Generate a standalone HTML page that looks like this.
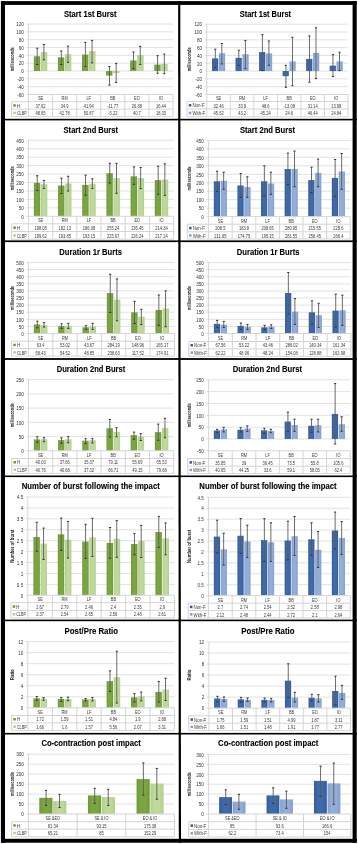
<!DOCTYPE html>
<html><head><meta charset="utf-8"><style>
html,body{margin:0;padding:0;background:#fff;}
svg{display:block;font-family:"Liberation Sans",Arial,sans-serif;}
</style></head><body>
<svg width="358" height="844" viewBox="0 0 358 844">
<defs><linearGradient id="gL0" x1="0" x2="1" y1="0" y2="0"><stop offset="0" stop-color="#6f9838"/><stop offset="0.3" stop-color="#7ba540"/><stop offset="0.7" stop-color="#7ba540"/><stop offset="1" stop-color="#6f9838"/></linearGradient><linearGradient id="gL1" x1="0" x2="1" y1="0" y2="0"><stop offset="0" stop-color="#b1ce8a"/><stop offset="0.3" stop-color="#bfd89c"/><stop offset="0.7" stop-color="#bfd89c"/><stop offset="1" stop-color="#b1ce8a"/></linearGradient><linearGradient id="gR0" x1="0" x2="1" y1="0" y2="0"><stop offset="0" stop-color="#345b98"/><stop offset="0.3" stop-color="#3f69a8"/><stop offset="0.7" stop-color="#3f69a8"/><stop offset="1" stop-color="#345b98"/></linearGradient><linearGradient id="gR1" x1="0" x2="1" y1="0" y2="0"><stop offset="0" stop-color="#839fcf"/><stop offset="0.3" stop-color="#93acd8"/><stop offset="0.7" stop-color="#93acd8"/><stop offset="1" stop-color="#839fcf"/></linearGradient></defs>
<rect x="0" y="0" width="358" height="844" fill="#fff"/>
<g fill="#383838">
<rect x="26.5" y="94" width="2" height="1" fill="#d6d6d6"/>
<text x="23.8" y="96.75" font-size="4.6" fill="#333" text-anchor="end">-60</text>
<rect x="28.5" y="86.17" width="144.5" height="1" fill="#e2e2e2"/>
<rect x="26.5" y="86.17" width="2" height="1" fill="#d6d6d6"/>
<text x="23.8" y="88.91" font-size="4.6" fill="#333" text-anchor="end">-40</text>
<rect x="28.5" y="78.33" width="144.5" height="1" fill="#e2e2e2"/>
<rect x="26.5" y="78.33" width="2" height="1" fill="#d6d6d6"/>
<text x="23.8" y="81.08" font-size="4.6" fill="#333" text-anchor="end">-20</text>
<rect x="28.5" y="70.5" width="144.5" height="1" fill="#e2e2e2"/>
<rect x="26.5" y="70.5" width="2" height="1" fill="#d6d6d6"/>
<text x="23.8" y="73.25" font-size="4.6" fill="#333" text-anchor="end">0</text>
<rect x="28.5" y="62.67" width="144.5" height="1" fill="#e2e2e2"/>
<rect x="26.5" y="62.67" width="2" height="1" fill="#d6d6d6"/>
<text x="23.8" y="65.41" font-size="4.6" fill="#333" text-anchor="end">20</text>
<rect x="28.5" y="54.83" width="144.5" height="1" fill="#e2e2e2"/>
<rect x="26.5" y="54.83" width="2" height="1" fill="#d6d6d6"/>
<text x="23.8" y="57.58" font-size="4.6" fill="#333" text-anchor="end">40</text>
<rect x="28.5" y="47" width="144.5" height="1" fill="#e2e2e2"/>
<rect x="26.5" y="47" width="2" height="1" fill="#d6d6d6"/>
<text x="23.8" y="49.75" font-size="4.6" fill="#333" text-anchor="end">60</text>
<rect x="28.5" y="39.17" width="144.5" height="1" fill="#e2e2e2"/>
<rect x="26.5" y="39.17" width="2" height="1" fill="#d6d6d6"/>
<text x="23.8" y="41.91" font-size="4.6" fill="#333" text-anchor="end">80</text>
<rect x="28.5" y="31.33" width="144.5" height="1" fill="#e2e2e2"/>
<rect x="26.5" y="31.33" width="2" height="1" fill="#d6d6d6"/>
<text x="23.8" y="34.08" font-size="4.6" fill="#333" text-anchor="end">100</text>
<rect x="28.5" y="23.5" width="144.5" height="1" fill="#e2e2e2"/>
<rect x="26.5" y="23.5" width="2" height="1" fill="#d6d6d6"/>
<text x="23.8" y="26.25" font-size="4.6" fill="#333" text-anchor="end">120</text>
<rect x="33.85" y="56.27" width="6.34" height="14.73" fill="url(#gL0)"/>
<rect x="57.94" y="57.33" width="6.34" height="13.67" fill="url(#gL0)"/>
<rect x="82.02" y="54.57" width="6.34" height="16.43" fill="url(#gL0)"/>
<rect x="106.1" y="71" width="6.34" height="4.61" fill="url(#gL0)"/>
<rect x="130.19" y="60.47" width="6.34" height="10.53" fill="url(#gL0)"/>
<rect x="154.27" y="64.56" width="6.34" height="6.44" fill="url(#gL0)"/>
<rect x="40.89" y="51.95" width="6.34" height="19.05" fill="url(#gL1)"/>
<rect x="64.97" y="54.24" width="6.34" height="16.76" fill="url(#gL1)"/>
<rect x="89.06" y="51.08" width="6.34" height="19.92" fill="url(#gL1)"/>
<rect x="113.14" y="71" width="6.34" height="2.04" fill="url(#gL1)"/>
<rect x="137.22" y="55.06" width="6.34" height="15.94" fill="url(#gL1)"/>
<rect x="161.31" y="63.82" width="6.34" height="7.18" fill="url(#gL1)"/>
<rect x="36.75" y="48.2" width="0.9" height="16.3" fill="#5c5c5c"/>
<rect x="36.1" y="47.7" width="2.2" height="1" fill="#333333"/>
<rect x="36.1" y="64" width="2.2" height="1" fill="#333333"/>
<rect x="60.83" y="51" width="0.9" height="13.5" fill="#5c5c5c"/>
<rect x="60.18" y="50.5" width="2.2" height="1" fill="#333333"/>
<rect x="60.18" y="64" width="2.2" height="1" fill="#333333"/>
<rect x="84.91" y="42.4" width="0.9" height="24.1" fill="#5c5c5c"/>
<rect x="84.26" y="41.9" width="2.2" height="1" fill="#333333"/>
<rect x="84.26" y="66" width="2.2" height="1" fill="#333333"/>
<rect x="109" y="66.5" width="0.9" height="18.6" fill="#5c5c5c"/>
<rect x="108.35" y="66" width="2.2" height="1" fill="#333333"/>
<rect x="108.35" y="84.6" width="2.2" height="1" fill="#333333"/>
<rect x="133.08" y="52" width="0.9" height="16.6" fill="#5c5c5c"/>
<rect x="132.43" y="51.5" width="2.2" height="1" fill="#333333"/>
<rect x="132.43" y="68.1" width="2.2" height="1" fill="#333333"/>
<rect x="157.16" y="55.7" width="0.9" height="17.6" fill="#5c5c5c"/>
<rect x="156.51" y="55.2" width="2.2" height="1" fill="#333333"/>
<rect x="156.51" y="72.8" width="2.2" height="1" fill="#333333"/>
<rect x="43.44" y="44.5" width="0.9" height="15.3" fill="#5c5c5c"/>
<rect x="42.79" y="44" width="2.2" height="1" fill="#333333"/>
<rect x="42.79" y="59.3" width="2.2" height="1" fill="#333333"/>
<rect x="67.52" y="46.1" width="0.9" height="16.3" fill="#5c5c5c"/>
<rect x="66.87" y="45.6" width="2.2" height="1" fill="#333333"/>
<rect x="66.87" y="61.9" width="2.2" height="1" fill="#333333"/>
<rect x="91.6" y="40.4" width="0.9" height="22.5" fill="#5c5c5c"/>
<rect x="90.95" y="39.9" width="2.2" height="1" fill="#333333"/>
<rect x="90.95" y="62.4" width="2.2" height="1" fill="#333333"/>
<rect x="115.69" y="63.4" width="0.9" height="19" fill="#5c5c5c"/>
<rect x="115.04" y="62.9" width="2.2" height="1" fill="#333333"/>
<rect x="115.04" y="81.9" width="2.2" height="1" fill="#333333"/>
<rect x="139.77" y="46.4" width="0.9" height="18" fill="#5c5c5c"/>
<rect x="139.12" y="45.9" width="2.2" height="1" fill="#333333"/>
<rect x="139.12" y="63.9" width="2.2" height="1" fill="#333333"/>
<rect x="163.85" y="54.1" width="0.9" height="19.6" fill="#5c5c5c"/>
<rect x="163.2" y="53.6" width="2.2" height="1" fill="#333333"/>
<rect x="163.2" y="73.2" width="2.2" height="1" fill="#333333"/>
<rect x="28" y="24" width="1" height="92.6" fill="#d6d6d6"/>
<rect x="28.5" y="94" width="144.5" height="1" fill="#d6d6d6"/>
<rect x="11.5" y="101.2" width="161.5" height="1" fill="#d4d4d4"/>
<rect x="11.5" y="108.6" width="161.5" height="1" fill="#d4d4d4"/>
<rect x="11.5" y="116.1" width="161.5" height="1" fill="#d4d4d4"/>
<rect x="52.08" y="94.5" width="1" height="22.1" fill="#d4d4d4"/>
<rect x="76.17" y="94.5" width="1" height="22.1" fill="#d4d4d4"/>
<rect x="100.25" y="94.5" width="1" height="22.1" fill="#d4d4d4"/>
<rect x="124.33" y="94.5" width="1" height="22.1" fill="#d4d4d4"/>
<rect x="148.42" y="94.5" width="1" height="22.1" fill="#d4d4d4"/>
<rect x="172.5" y="94.5" width="1" height="22.1" fill="#d4d4d4"/>
<rect x="11" y="101.7" width="1" height="14.9" fill="#d4d4d4"/>
<text x="40.54" y="100.35" font-size="4.6" textLength="5.22" lengthAdjust="spacingAndGlyphs" text-anchor="middle">SE</text>
<text x="40.54" y="107.65" font-size="4.6" textLength="10.13" lengthAdjust="spacingAndGlyphs" text-anchor="middle">37.62</text>
<text x="40.54" y="115.1" font-size="4.6" textLength="10.13" lengthAdjust="spacingAndGlyphs" text-anchor="middle">48.65</text>
<text x="64.62" y="100.35" font-size="4.6" textLength="6.08" lengthAdjust="spacingAndGlyphs" text-anchor="middle">RM</text>
<text x="64.62" y="107.65" font-size="4.6" textLength="7.88" lengthAdjust="spacingAndGlyphs" text-anchor="middle">34.9</text>
<text x="64.62" y="115.1" font-size="4.6" textLength="10.13" lengthAdjust="spacingAndGlyphs" text-anchor="middle">42.78</text>
<text x="88.71" y="100.35" font-size="4.6" textLength="4.56" lengthAdjust="spacingAndGlyphs" text-anchor="middle">LF</text>
<text x="88.71" y="107.65" font-size="4.6" textLength="10.13" lengthAdjust="spacingAndGlyphs" text-anchor="middle">41.94</text>
<text x="88.71" y="115.1" font-size="4.6" textLength="10.13" lengthAdjust="spacingAndGlyphs" text-anchor="middle">50.87</text>
<text x="112.79" y="100.35" font-size="4.6" textLength="5.22" lengthAdjust="spacingAndGlyphs" text-anchor="middle">BB</text>
<text x="112.79" y="107.65" font-size="4.6" textLength="11.18" lengthAdjust="spacingAndGlyphs" text-anchor="middle">-11.77</text>
<text x="112.79" y="115.1" font-size="4.6" textLength="9.23" lengthAdjust="spacingAndGlyphs" text-anchor="middle">-5.22</text>
<text x="136.88" y="100.35" font-size="4.6" textLength="5.65" lengthAdjust="spacingAndGlyphs" text-anchor="middle">EO</text>
<text x="136.88" y="107.65" font-size="4.6" textLength="10.13" lengthAdjust="spacingAndGlyphs" text-anchor="middle">26.88</text>
<text x="136.88" y="115.1" font-size="4.6" textLength="7.88" lengthAdjust="spacingAndGlyphs" text-anchor="middle">40.7</text>
<text x="160.96" y="100.35" font-size="4.6" textLength="4.13" lengthAdjust="spacingAndGlyphs" text-anchor="middle">IO</text>
<text x="160.96" y="107.65" font-size="4.6" textLength="10.13" lengthAdjust="spacingAndGlyphs" text-anchor="middle">16.44</text>
<text x="160.96" y="115.1" font-size="4.6" textLength="10.13" lengthAdjust="spacingAndGlyphs" text-anchor="middle">18.33</text>
<rect x="13.3" y="104.2" width="2.5" height="2.5" fill="#6f9838"/>
<text x="16.9" y="107.62" font-size="4.8" textLength="3.1" lengthAdjust="spacingAndGlyphs">H</text>
<rect x="13.3" y="111.65" width="2.5" height="2.5" fill="#b1ce8a"/>
<text x="16.9" y="115.07" font-size="4.8" textLength="9.8" lengthAdjust="spacingAndGlyphs">CLBP</text>
<text x="90.25" y="16.7" font-size="8.2" textLength="52.5" lengthAdjust="spacingAndGlyphs" font-weight="bold" fill="#000" text-anchor="middle" stroke="#000" stroke-width="0.1">Start 1st Burst</text>
<text transform="translate(14 59.25) rotate(-90)" font-size="4.6" font-weight="bold" text-anchor="middle" fill="#222" textLength="24" lengthAdjust="spacingAndGlyphs">milliseconds</text>
<rect x="204.8" y="94" width="2" height="1" fill="#d6d6d6"/>
<text x="202.1" y="96.75" font-size="4.6" fill="#333" text-anchor="end">-60</text>
<rect x="206.8" y="86.19" width="141.2" height="1" fill="#e2e2e2"/>
<rect x="204.8" y="86.19" width="2" height="1" fill="#d6d6d6"/>
<text x="202.1" y="88.94" font-size="4.6" fill="#333" text-anchor="end">-40</text>
<rect x="206.8" y="78.38" width="141.2" height="1" fill="#e2e2e2"/>
<rect x="204.8" y="78.38" width="2" height="1" fill="#d6d6d6"/>
<text x="202.1" y="81.12" font-size="4.6" fill="#333" text-anchor="end">-20</text>
<rect x="206.8" y="70.57" width="141.2" height="1" fill="#e2e2e2"/>
<rect x="204.8" y="70.57" width="2" height="1" fill="#d6d6d6"/>
<text x="202.1" y="73.31" font-size="4.6" fill="#333" text-anchor="end">0</text>
<rect x="206.8" y="62.76" width="141.2" height="1" fill="#e2e2e2"/>
<rect x="204.8" y="62.76" width="2" height="1" fill="#d6d6d6"/>
<text x="202.1" y="65.5" font-size="4.6" fill="#333" text-anchor="end">20</text>
<rect x="206.8" y="54.94" width="141.2" height="1" fill="#e2e2e2"/>
<rect x="204.8" y="54.94" width="2" height="1" fill="#d6d6d6"/>
<text x="202.1" y="57.69" font-size="4.6" fill="#333" text-anchor="end">40</text>
<rect x="206.8" y="47.13" width="141.2" height="1" fill="#e2e2e2"/>
<rect x="204.8" y="47.13" width="2" height="1" fill="#d6d6d6"/>
<text x="202.1" y="49.88" font-size="4.6" fill="#333" text-anchor="end">60</text>
<rect x="206.8" y="39.32" width="141.2" height="1" fill="#e2e2e2"/>
<rect x="204.8" y="39.32" width="2" height="1" fill="#d6d6d6"/>
<text x="202.1" y="42.07" font-size="4.6" fill="#333" text-anchor="end">80</text>
<rect x="206.8" y="31.51" width="141.2" height="1" fill="#e2e2e2"/>
<rect x="204.8" y="31.51" width="2" height="1" fill="#d6d6d6"/>
<text x="202.1" y="34.26" font-size="4.6" fill="#333" text-anchor="end">100</text>
<rect x="206.8" y="23.7" width="141.2" height="1" fill="#e2e2e2"/>
<rect x="204.8" y="23.7" width="2" height="1" fill="#d6d6d6"/>
<text x="202.1" y="26.45" font-size="4.6" fill="#333" text-anchor="end">120</text>
<rect x="212.03" y="58.39" width="6.19" height="12.68" fill="url(#gR0)"/>
<rect x="235.56" y="57.83" width="6.19" height="13.24" fill="url(#gR0)"/>
<rect x="259.1" y="52.09" width="6.19" height="18.98" fill="url(#gR0)"/>
<rect x="282.63" y="71.07" width="6.19" height="5.11" fill="url(#gR0)"/>
<rect x="306.16" y="58.9" width="6.19" height="12.16" fill="url(#gR0)"/>
<rect x="329.7" y="65.61" width="6.19" height="5.46" fill="url(#gR0)"/>
<rect x="218.92" y="53.25" width="6.19" height="17.82" fill="url(#gR1)"/>
<rect x="242.45" y="54.19" width="6.19" height="16.87" fill="url(#gR1)"/>
<rect x="265.98" y="53.4" width="6.19" height="17.67" fill="url(#gR1)"/>
<rect x="289.52" y="61.46" width="6.19" height="9.61" fill="url(#gR1)"/>
<rect x="313.05" y="52.93" width="6.19" height="18.14" fill="url(#gR1)"/>
<rect x="336.58" y="61.37" width="6.19" height="9.7" fill="url(#gR1)"/>
<rect x="214.85" y="49.2" width="0.9" height="18.4" fill="#5c5c5c"/>
<rect x="214.2" y="48.7" width="2.2" height="1" fill="#333333"/>
<rect x="214.2" y="67.1" width="2.2" height="1" fill="#333333"/>
<rect x="238.38" y="50.2" width="0.9" height="15.1" fill="#5c5c5c"/>
<rect x="237.73" y="49.7" width="2.2" height="1" fill="#333333"/>
<rect x="237.73" y="64.8" width="2.2" height="1" fill="#333333"/>
<rect x="261.91" y="34.7" width="0.9" height="35.9" fill="#5c5c5c"/>
<rect x="261.26" y="34.2" width="2.2" height="1" fill="#333333"/>
<rect x="261.26" y="70.1" width="2.2" height="1" fill="#333333"/>
<rect x="285.45" y="65.3" width="0.9" height="22" fill="#5c5c5c"/>
<rect x="284.8" y="64.8" width="2.2" height="1" fill="#333333"/>
<rect x="284.8" y="86.8" width="2.2" height="1" fill="#333333"/>
<rect x="308.98" y="35.9" width="0.9" height="46.3" fill="#5c5c5c"/>
<rect x="308.33" y="35.4" width="2.2" height="1" fill="#333333"/>
<rect x="308.33" y="81.7" width="2.2" height="1" fill="#333333"/>
<rect x="332.51" y="54.7" width="0.9" height="21.8" fill="#5c5c5c"/>
<rect x="331.86" y="54.2" width="2.2" height="1" fill="#333333"/>
<rect x="331.86" y="76" width="2.2" height="1" fill="#333333"/>
<rect x="221.39" y="43.5" width="0.9" height="20.4" fill="#5c5c5c"/>
<rect x="220.74" y="43" width="2.2" height="1" fill="#333333"/>
<rect x="220.74" y="63.4" width="2.2" height="1" fill="#333333"/>
<rect x="244.92" y="40.4" width="0.9" height="28.2" fill="#5c5c5c"/>
<rect x="244.27" y="39.9" width="2.2" height="1" fill="#333333"/>
<rect x="244.27" y="68.1" width="2.2" height="1" fill="#333333"/>
<rect x="268.45" y="41" width="0.9" height="24.3" fill="#5c5c5c"/>
<rect x="267.8" y="40.5" width="2.2" height="1" fill="#333333"/>
<rect x="267.8" y="64.8" width="2.2" height="1" fill="#333333"/>
<rect x="291.99" y="37.3" width="0.9" height="48.4" fill="#5c5c5c"/>
<rect x="291.34" y="36.8" width="2.2" height="1" fill="#333333"/>
<rect x="291.34" y="85.2" width="2.2" height="1" fill="#333333"/>
<rect x="315.52" y="27.8" width="0.9" height="50.8" fill="#5c5c5c"/>
<rect x="314.87" y="27.3" width="2.2" height="1" fill="#333333"/>
<rect x="314.87" y="78.1" width="2.2" height="1" fill="#333333"/>
<rect x="339.05" y="52.2" width="0.9" height="18.4" fill="#5c5c5c"/>
<rect x="338.4" y="51.7" width="2.2" height="1" fill="#333333"/>
<rect x="338.4" y="70.1" width="2.2" height="1" fill="#333333"/>
<rect x="206.3" y="24.2" width="1" height="92.6" fill="#d6d6d6"/>
<rect x="206.8" y="94" width="141.2" height="1" fill="#d6d6d6"/>
<rect x="187" y="101" width="161" height="1" fill="#d4d4d4"/>
<rect x="187" y="108.5" width="161" height="1" fill="#d4d4d4"/>
<rect x="187" y="116.3" width="161" height="1" fill="#d4d4d4"/>
<rect x="229.83" y="94.5" width="1" height="22.3" fill="#d4d4d4"/>
<rect x="253.37" y="94.5" width="1" height="22.3" fill="#d4d4d4"/>
<rect x="276.9" y="94.5" width="1" height="22.3" fill="#d4d4d4"/>
<rect x="300.43" y="94.5" width="1" height="22.3" fill="#d4d4d4"/>
<rect x="323.97" y="94.5" width="1" height="22.3" fill="#d4d4d4"/>
<rect x="347.5" y="94.5" width="1" height="22.3" fill="#d4d4d4"/>
<rect x="186.5" y="101.5" width="1" height="15.3" fill="#d4d4d4"/>
<text x="218.57" y="100.25" font-size="4.6" textLength="5.22" lengthAdjust="spacingAndGlyphs" text-anchor="middle">SE</text>
<text x="218.57" y="107.5" font-size="4.6" textLength="10.13" lengthAdjust="spacingAndGlyphs" text-anchor="middle">32.46</text>
<text x="218.57" y="115.15" font-size="4.6" textLength="10.13" lengthAdjust="spacingAndGlyphs" text-anchor="middle">45.62</text>
<text x="242.1" y="100.25" font-size="4.6" textLength="6.08" lengthAdjust="spacingAndGlyphs" text-anchor="middle">RM</text>
<text x="242.1" y="107.5" font-size="4.6" textLength="7.88" lengthAdjust="spacingAndGlyphs" text-anchor="middle">33.9</text>
<text x="242.1" y="115.15" font-size="4.6" textLength="7.88" lengthAdjust="spacingAndGlyphs" text-anchor="middle">43.2</text>
<text x="265.63" y="100.25" font-size="4.6" textLength="4.56" lengthAdjust="spacingAndGlyphs" text-anchor="middle">LF</text>
<text x="265.63" y="107.5" font-size="4.6" textLength="7.88" lengthAdjust="spacingAndGlyphs" text-anchor="middle">48.6</text>
<text x="265.63" y="115.15" font-size="4.6" textLength="10.13" lengthAdjust="spacingAndGlyphs" text-anchor="middle">45.24</text>
<text x="289.17" y="100.25" font-size="4.6" textLength="5.22" lengthAdjust="spacingAndGlyphs" text-anchor="middle">BB</text>
<text x="289.17" y="107.5" font-size="4.6" textLength="11.48" lengthAdjust="spacingAndGlyphs" text-anchor="middle">-13.08</text>
<text x="289.17" y="115.15" font-size="4.6" textLength="7.88" lengthAdjust="spacingAndGlyphs" text-anchor="middle">24.6</text>
<text x="312.7" y="100.25" font-size="4.6" textLength="5.65" lengthAdjust="spacingAndGlyphs" text-anchor="middle">EO</text>
<text x="312.7" y="107.5" font-size="4.6" textLength="10.13" lengthAdjust="spacingAndGlyphs" text-anchor="middle">31.14</text>
<text x="312.7" y="115.15" font-size="4.6" textLength="10.13" lengthAdjust="spacingAndGlyphs" text-anchor="middle">46.44</text>
<text x="336.23" y="100.25" font-size="4.6" textLength="4.13" lengthAdjust="spacingAndGlyphs" text-anchor="middle">IO</text>
<text x="336.23" y="107.5" font-size="4.6" textLength="10.13" lengthAdjust="spacingAndGlyphs" text-anchor="middle">13.98</text>
<text x="336.23" y="115.15" font-size="4.6" textLength="10.13" lengthAdjust="spacingAndGlyphs" text-anchor="middle">24.84</text>
<rect x="188.8" y="104.05" width="2.5" height="2.5" fill="#345b98"/>
<text x="192.4" y="107.47" font-size="4.8" textLength="12.2" lengthAdjust="spacingAndGlyphs">Non-F</text>
<rect x="188.8" y="111.7" width="2.5" height="2.5" fill="#839fcf"/>
<text x="192.4" y="115.12" font-size="4.8" textLength="12.9" lengthAdjust="spacingAndGlyphs">With-F</text>
<text x="265.4" y="16.6" font-size="8.2" textLength="51.4" lengthAdjust="spacingAndGlyphs" font-weight="bold" fill="#000" text-anchor="middle" stroke="#000" stroke-width="0.1">Start 1st Burst</text>
<text transform="translate(191 59.35) rotate(-90)" font-size="4.6" font-weight="bold" text-anchor="middle" fill="#222" textLength="24" lengthAdjust="spacingAndGlyphs">milliseconds</text>
<rect x="26.5" y="215.8" width="2" height="1" fill="#d6d6d6"/>
<text x="23.8" y="218.55" font-size="4.6" fill="#333" text-anchor="end">0</text>
<rect x="28.5" y="207.36" width="145.1" height="1" fill="#e2e2e2"/>
<rect x="26.5" y="207.36" width="2" height="1" fill="#d6d6d6"/>
<text x="23.8" y="210.1" font-size="4.6" fill="#333" text-anchor="end">50</text>
<rect x="28.5" y="198.91" width="145.1" height="1" fill="#e2e2e2"/>
<rect x="26.5" y="198.91" width="2" height="1" fill="#d6d6d6"/>
<text x="23.8" y="201.66" font-size="4.6" fill="#333" text-anchor="end">100</text>
<rect x="28.5" y="190.47" width="145.1" height="1" fill="#e2e2e2"/>
<rect x="26.5" y="190.47" width="2" height="1" fill="#d6d6d6"/>
<text x="23.8" y="193.21" font-size="4.6" fill="#333" text-anchor="end">150</text>
<rect x="28.5" y="182.02" width="145.1" height="1" fill="#e2e2e2"/>
<rect x="26.5" y="182.02" width="2" height="1" fill="#d6d6d6"/>
<text x="23.8" y="184.77" font-size="4.6" fill="#333" text-anchor="end">200</text>
<rect x="28.5" y="173.58" width="145.1" height="1" fill="#e2e2e2"/>
<rect x="26.5" y="173.58" width="2" height="1" fill="#d6d6d6"/>
<text x="23.8" y="176.32" font-size="4.6" fill="#333" text-anchor="end">250</text>
<rect x="28.5" y="165.13" width="145.1" height="1" fill="#e2e2e2"/>
<rect x="26.5" y="165.13" width="2" height="1" fill="#d6d6d6"/>
<text x="23.8" y="167.88" font-size="4.6" fill="#333" text-anchor="end">300</text>
<rect x="28.5" y="156.69" width="145.1" height="1" fill="#e2e2e2"/>
<rect x="26.5" y="156.69" width="2" height="1" fill="#d6d6d6"/>
<text x="23.8" y="159.44" font-size="4.6" fill="#333" text-anchor="end">350</text>
<rect x="28.5" y="148.24" width="145.1" height="1" fill="#e2e2e2"/>
<rect x="26.5" y="148.24" width="2" height="1" fill="#d6d6d6"/>
<text x="23.8" y="150.99" font-size="4.6" fill="#333" text-anchor="end">400</text>
<rect x="28.5" y="139.8" width="145.1" height="1" fill="#e2e2e2"/>
<rect x="26.5" y="139.8" width="2" height="1" fill="#d6d6d6"/>
<text x="23.8" y="142.55" font-size="4.6" fill="#333" text-anchor="end">450</text>
<rect x="33.87" y="182.85" width="6.37" height="33.45" fill="url(#gL0)"/>
<rect x="58.06" y="185.54" width="6.37" height="30.76" fill="url(#gL0)"/>
<rect x="82.24" y="184.87" width="6.37" height="31.43" fill="url(#gL0)"/>
<rect x="106.42" y="173.19" width="6.37" height="43.11" fill="url(#gL0)"/>
<rect x="130.61" y="176.37" width="6.37" height="39.93" fill="url(#gL0)"/>
<rect x="154.79" y="180.1" width="6.37" height="36.2" fill="url(#gL0)"/>
<rect x="40.94" y="184.28" width="6.37" height="32.02" fill="url(#gL1)"/>
<rect x="65.12" y="183.56" width="6.37" height="32.74" fill="url(#gL1)"/>
<rect x="89.31" y="183.68" width="6.37" height="32.62" fill="url(#gL1)"/>
<rect x="113.49" y="178.14" width="6.37" height="38.16" fill="url(#gL1)"/>
<rect x="137.67" y="178.09" width="6.37" height="38.21" fill="url(#gL1)"/>
<rect x="161.86" y="179.61" width="6.37" height="36.69" fill="url(#gL1)"/>
<rect x="36.78" y="175.7" width="0.9" height="14.9" fill="#5c5c5c"/>
<rect x="36.13" y="175.2" width="2.2" height="1" fill="#333333"/>
<rect x="36.13" y="190.1" width="2.2" height="1" fill="#333333"/>
<rect x="60.97" y="178.2" width="0.9" height="15.3" fill="#5c5c5c"/>
<rect x="60.32" y="177.7" width="2.2" height="1" fill="#333333"/>
<rect x="60.32" y="193" width="2.2" height="1" fill="#333333"/>
<rect x="85.15" y="175.1" width="0.9" height="20" fill="#5c5c5c"/>
<rect x="84.5" y="174.6" width="2.2" height="1" fill="#333333"/>
<rect x="84.5" y="194.6" width="2.2" height="1" fill="#333333"/>
<rect x="109.33" y="163.3" width="0.9" height="19.7" fill="#5c5c5c"/>
<rect x="108.68" y="162.8" width="2.2" height="1" fill="#333333"/>
<rect x="108.68" y="182.5" width="2.2" height="1" fill="#333333"/>
<rect x="133.52" y="166.9" width="0.9" height="17.5" fill="#5c5c5c"/>
<rect x="132.87" y="166.4" width="2.2" height="1" fill="#333333"/>
<rect x="132.87" y="183.9" width="2.2" height="1" fill="#333333"/>
<rect x="157.7" y="166.2" width="0.9" height="28.1" fill="#5c5c5c"/>
<rect x="157.05" y="165.7" width="2.2" height="1" fill="#333333"/>
<rect x="157.05" y="193.8" width="2.2" height="1" fill="#333333"/>
<rect x="43.5" y="180.4" width="0.9" height="8" fill="#5c5c5c"/>
<rect x="42.85" y="179.9" width="2.2" height="1" fill="#333333"/>
<rect x="42.85" y="187.9" width="2.2" height="1" fill="#333333"/>
<rect x="67.68" y="176.3" width="0.9" height="14.7" fill="#5c5c5c"/>
<rect x="67.03" y="175.8" width="2.2" height="1" fill="#333333"/>
<rect x="67.03" y="190.5" width="2.2" height="1" fill="#333333"/>
<rect x="91.87" y="178.8" width="0.9" height="9.6" fill="#5c5c5c"/>
<rect x="91.22" y="178.3" width="2.2" height="1" fill="#333333"/>
<rect x="91.22" y="187.9" width="2.2" height="1" fill="#333333"/>
<rect x="116.05" y="163.3" width="0.9" height="30" fill="#5c5c5c"/>
<rect x="115.4" y="162.8" width="2.2" height="1" fill="#333333"/>
<rect x="115.4" y="192.8" width="2.2" height="1" fill="#333333"/>
<rect x="140.23" y="167.5" width="0.9" height="21.1" fill="#5c5c5c"/>
<rect x="139.58" y="167" width="2.2" height="1" fill="#333333"/>
<rect x="139.58" y="188.1" width="2.2" height="1" fill="#333333"/>
<rect x="164.42" y="163.8" width="0.9" height="31.6" fill="#5c5c5c"/>
<rect x="163.77" y="163.3" width="2.2" height="1" fill="#333333"/>
<rect x="163.77" y="194.9" width="2.2" height="1" fill="#333333"/>
<rect x="28" y="140.3" width="1" height="98.9" fill="#d6d6d6"/>
<rect x="28.5" y="215.8" width="145.1" height="1" fill="#d6d6d6"/>
<rect x="11.5" y="223.3" width="162.1" height="1" fill="#d4d4d4"/>
<rect x="11.5" y="231" width="162.1" height="1" fill="#d4d4d4"/>
<rect x="11.5" y="238.7" width="162.1" height="1" fill="#d4d4d4"/>
<rect x="52.18" y="216.3" width="1" height="22.9" fill="#d4d4d4"/>
<rect x="76.37" y="216.3" width="1" height="22.9" fill="#d4d4d4"/>
<rect x="100.55" y="216.3" width="1" height="22.9" fill="#d4d4d4"/>
<rect x="124.73" y="216.3" width="1" height="22.9" fill="#d4d4d4"/>
<rect x="148.92" y="216.3" width="1" height="22.9" fill="#d4d4d4"/>
<rect x="173.1" y="216.3" width="1" height="22.9" fill="#d4d4d4"/>
<rect x="11" y="223.8" width="1" height="15.4" fill="#d4d4d4"/>
<text x="40.59" y="222.3" font-size="4.6" textLength="5.22" lengthAdjust="spacingAndGlyphs" text-anchor="middle">SE</text>
<text x="40.59" y="229.9" font-size="4.6" textLength="12.38" lengthAdjust="spacingAndGlyphs" text-anchor="middle">198.08</text>
<text x="40.59" y="237.6" font-size="4.6" textLength="12.38" lengthAdjust="spacingAndGlyphs" text-anchor="middle">189.62</text>
<text x="64.78" y="222.3" font-size="4.6" textLength="6.08" lengthAdjust="spacingAndGlyphs" text-anchor="middle">RM</text>
<text x="64.78" y="229.9" font-size="4.6" textLength="12.38" lengthAdjust="spacingAndGlyphs" text-anchor="middle">182.13</text>
<text x="64.78" y="237.6" font-size="4.6" textLength="12.38" lengthAdjust="spacingAndGlyphs" text-anchor="middle">193.85</text>
<text x="88.96" y="222.3" font-size="4.6" textLength="4.56" lengthAdjust="spacingAndGlyphs" text-anchor="middle">LF</text>
<text x="88.96" y="229.9" font-size="4.6" textLength="12.38" lengthAdjust="spacingAndGlyphs" text-anchor="middle">186.08</text>
<text x="88.96" y="237.6" font-size="4.6" textLength="12.38" lengthAdjust="spacingAndGlyphs" text-anchor="middle">193.15</text>
<text x="113.14" y="222.3" font-size="4.6" textLength="5.22" lengthAdjust="spacingAndGlyphs" text-anchor="middle">BB</text>
<text x="113.14" y="229.9" font-size="4.6" textLength="12.38" lengthAdjust="spacingAndGlyphs" text-anchor="middle">255.24</text>
<text x="113.14" y="237.6" font-size="4.6" textLength="12.38" lengthAdjust="spacingAndGlyphs" text-anchor="middle">225.97</text>
<text x="137.32" y="222.3" font-size="4.6" textLength="5.65" lengthAdjust="spacingAndGlyphs" text-anchor="middle">EO</text>
<text x="137.32" y="229.9" font-size="4.6" textLength="12.38" lengthAdjust="spacingAndGlyphs" text-anchor="middle">236.45</text>
<text x="137.32" y="237.6" font-size="4.6" textLength="12.38" lengthAdjust="spacingAndGlyphs" text-anchor="middle">226.24</text>
<text x="161.51" y="222.3" font-size="4.6" textLength="4.13" lengthAdjust="spacingAndGlyphs" text-anchor="middle">IO</text>
<text x="161.51" y="229.9" font-size="4.6" textLength="12.38" lengthAdjust="spacingAndGlyphs" text-anchor="middle">214.34</text>
<text x="161.51" y="237.6" font-size="4.6" textLength="12.38" lengthAdjust="spacingAndGlyphs" text-anchor="middle">217.24</text>
<rect x="13.3" y="226.45" width="2.5" height="2.5" fill="#6f9838"/>
<text x="16.9" y="229.87" font-size="4.8" textLength="3.1" lengthAdjust="spacingAndGlyphs">H</text>
<rect x="13.3" y="234.15" width="2.5" height="2.5" fill="#b1ce8a"/>
<text x="16.9" y="237.57" font-size="4.8" textLength="9.8" lengthAdjust="spacingAndGlyphs">CLBP</text>
<text x="90.8" y="132.6" font-size="8.2" textLength="54.4" lengthAdjust="spacingAndGlyphs" font-weight="bold" fill="#000" text-anchor="middle" stroke="#000" stroke-width="0.1">Start 2nd Burst</text>
<text transform="translate(14 178.3) rotate(-90)" font-size="4.6" font-weight="bold" text-anchor="middle" fill="#222" textLength="24" lengthAdjust="spacingAndGlyphs">milliseconds</text>
<rect x="206.6" y="216.1" width="2" height="1" fill="#d6d6d6"/>
<text x="203.9" y="218.85" font-size="4.6" fill="#333" text-anchor="end">0</text>
<rect x="208.6" y="207.63" width="141.6" height="1" fill="#e2e2e2"/>
<rect x="206.6" y="207.63" width="2" height="1" fill="#d6d6d6"/>
<text x="203.9" y="210.38" font-size="4.6" fill="#333" text-anchor="end">50</text>
<rect x="208.6" y="199.17" width="141.6" height="1" fill="#e2e2e2"/>
<rect x="206.6" y="199.17" width="2" height="1" fill="#d6d6d6"/>
<text x="203.9" y="201.91" font-size="4.6" fill="#333" text-anchor="end">100</text>
<rect x="208.6" y="190.7" width="141.6" height="1" fill="#e2e2e2"/>
<rect x="206.6" y="190.7" width="2" height="1" fill="#d6d6d6"/>
<text x="203.9" y="193.45" font-size="4.6" fill="#333" text-anchor="end">150</text>
<rect x="208.6" y="182.23" width="141.6" height="1" fill="#e2e2e2"/>
<rect x="206.6" y="182.23" width="2" height="1" fill="#d6d6d6"/>
<text x="203.9" y="184.98" font-size="4.6" fill="#333" text-anchor="end">200</text>
<rect x="208.6" y="173.77" width="141.6" height="1" fill="#e2e2e2"/>
<rect x="206.6" y="173.77" width="2" height="1" fill="#d6d6d6"/>
<text x="203.9" y="176.51" font-size="4.6" fill="#333" text-anchor="end">250</text>
<rect x="208.6" y="165.3" width="141.6" height="1" fill="#e2e2e2"/>
<rect x="206.6" y="165.3" width="2" height="1" fill="#d6d6d6"/>
<text x="203.9" y="168.05" font-size="4.6" fill="#333" text-anchor="end">300</text>
<rect x="208.6" y="156.83" width="141.6" height="1" fill="#e2e2e2"/>
<rect x="206.6" y="156.83" width="2" height="1" fill="#d6d6d6"/>
<text x="203.9" y="159.58" font-size="4.6" fill="#333" text-anchor="end">350</text>
<rect x="208.6" y="148.37" width="141.6" height="1" fill="#e2e2e2"/>
<rect x="206.6" y="148.37" width="2" height="1" fill="#d6d6d6"/>
<text x="203.9" y="151.11" font-size="4.6" fill="#333" text-anchor="end">400</text>
<rect x="208.6" y="139.9" width="141.6" height="1" fill="#e2e2e2"/>
<rect x="206.6" y="139.9" width="2" height="1" fill="#d6d6d6"/>
<text x="203.9" y="142.65" font-size="4.6" fill="#333" text-anchor="end">450</text>
<rect x="213.84" y="181.29" width="6.21" height="35.31" fill="url(#gR0)"/>
<rect x="237.44" y="185.46" width="6.21" height="31.14" fill="url(#gR0)"/>
<rect x="261.04" y="181.27" width="6.21" height="35.33" fill="url(#gR0)"/>
<rect x="284.64" y="169.03" width="6.21" height="47.57" fill="url(#gR0)"/>
<rect x="308.24" y="180.1" width="6.21" height="36.5" fill="url(#gR0)"/>
<rect x="331.84" y="177.89" width="6.21" height="38.71" fill="url(#gR0)"/>
<rect x="220.75" y="180.76" width="6.21" height="35.84" fill="url(#gR1)"/>
<rect x="244.35" y="187.01" width="6.21" height="29.59" fill="url(#gR1)"/>
<rect x="267.95" y="183.55" width="6.21" height="33.05" fill="url(#gR1)"/>
<rect x="291.55" y="168.92" width="6.21" height="47.68" fill="url(#gR1)"/>
<rect x="315.15" y="172.84" width="6.21" height="43.76" fill="url(#gR1)"/>
<rect x="338.75" y="171.49" width="6.21" height="45.11" fill="url(#gR1)"/>
<rect x="216.67" y="171.2" width="0.9" height="20.1" fill="#5c5c5c"/>
<rect x="216.02" y="170.7" width="2.2" height="1" fill="#333333"/>
<rect x="216.02" y="190.8" width="2.2" height="1" fill="#333333"/>
<rect x="240.27" y="173.6" width="0.9" height="23.7" fill="#5c5c5c"/>
<rect x="239.62" y="173.1" width="2.2" height="1" fill="#333333"/>
<rect x="239.62" y="196.8" width="2.2" height="1" fill="#333333"/>
<rect x="263.87" y="165.8" width="0.9" height="30.1" fill="#5c5c5c"/>
<rect x="263.22" y="165.3" width="2.2" height="1" fill="#333333"/>
<rect x="263.22" y="195.4" width="2.2" height="1" fill="#333333"/>
<rect x="287.47" y="153.1" width="0.9" height="31.6" fill="#5c5c5c"/>
<rect x="286.82" y="152.6" width="2.2" height="1" fill="#333333"/>
<rect x="286.82" y="184.2" width="2.2" height="1" fill="#333333"/>
<rect x="311.07" y="167.2" width="0.9" height="25.5" fill="#5c5c5c"/>
<rect x="310.42" y="166.7" width="2.2" height="1" fill="#333333"/>
<rect x="310.42" y="192.2" width="2.2" height="1" fill="#333333"/>
<rect x="334.67" y="159.5" width="0.9" height="36.8" fill="#5c5c5c"/>
<rect x="334.02" y="159" width="2.2" height="1" fill="#333333"/>
<rect x="334.02" y="195.8" width="2.2" height="1" fill="#333333"/>
<rect x="223.23" y="172.2" width="0.9" height="17.1" fill="#5c5c5c"/>
<rect x="222.58" y="171.7" width="2.2" height="1" fill="#333333"/>
<rect x="222.58" y="188.8" width="2.2" height="1" fill="#333333"/>
<rect x="246.83" y="176.8" width="0.9" height="20.5" fill="#5c5c5c"/>
<rect x="246.18" y="176.3" width="2.2" height="1" fill="#333333"/>
<rect x="246.18" y="196.8" width="2.2" height="1" fill="#333333"/>
<rect x="270.43" y="172.2" width="0.9" height="22.1" fill="#5c5c5c"/>
<rect x="269.78" y="171.7" width="2.2" height="1" fill="#333333"/>
<rect x="269.78" y="193.8" width="2.2" height="1" fill="#333333"/>
<rect x="294.03" y="151.1" width="0.9" height="35.6" fill="#5c5c5c"/>
<rect x="293.38" y="150.6" width="2.2" height="1" fill="#333333"/>
<rect x="293.38" y="186.2" width="2.2" height="1" fill="#333333"/>
<rect x="317.63" y="159.1" width="0.9" height="27.6" fill="#5c5c5c"/>
<rect x="316.98" y="158.6" width="2.2" height="1" fill="#333333"/>
<rect x="316.98" y="186.2" width="2.2" height="1" fill="#333333"/>
<rect x="341.23" y="153.5" width="0.9" height="35.8" fill="#5c5c5c"/>
<rect x="340.58" y="153" width="2.2" height="1" fill="#333333"/>
<rect x="340.58" y="188.8" width="2.2" height="1" fill="#333333"/>
<rect x="208.1" y="140.4" width="1" height="98.6" fill="#d6d6d6"/>
<rect x="208.6" y="216.1" width="141.6" height="1" fill="#d6d6d6"/>
<rect x="187.3" y="223.7" width="162.9" height="1" fill="#d4d4d4"/>
<rect x="187.3" y="231.3" width="162.9" height="1" fill="#d4d4d4"/>
<rect x="187.3" y="238.5" width="162.9" height="1" fill="#d4d4d4"/>
<rect x="231.7" y="216.6" width="1" height="22.4" fill="#d4d4d4"/>
<rect x="255.3" y="216.6" width="1" height="22.4" fill="#d4d4d4"/>
<rect x="278.9" y="216.6" width="1" height="22.4" fill="#d4d4d4"/>
<rect x="302.5" y="216.6" width="1" height="22.4" fill="#d4d4d4"/>
<rect x="326.1" y="216.6" width="1" height="22.4" fill="#d4d4d4"/>
<rect x="349.7" y="216.6" width="1" height="22.4" fill="#d4d4d4"/>
<rect x="186.8" y="224.2" width="1" height="14.8" fill="#d4d4d4"/>
<text x="220.4" y="222.65" font-size="4.6" textLength="5.22" lengthAdjust="spacingAndGlyphs" text-anchor="middle">SE</text>
<text x="220.4" y="230.25" font-size="4.6" textLength="10.13" lengthAdjust="spacingAndGlyphs" text-anchor="middle">208.5</text>
<text x="220.4" y="237.65" font-size="4.6" textLength="12.08" lengthAdjust="spacingAndGlyphs" text-anchor="middle">211.65</text>
<text x="244" y="222.65" font-size="4.6" textLength="6.08" lengthAdjust="spacingAndGlyphs" text-anchor="middle">RM</text>
<text x="244" y="230.25" font-size="4.6" textLength="10.13" lengthAdjust="spacingAndGlyphs" text-anchor="middle">183.9</text>
<text x="244" y="237.65" font-size="4.6" textLength="12.38" lengthAdjust="spacingAndGlyphs" text-anchor="middle">174.75</text>
<text x="267.6" y="222.65" font-size="4.6" textLength="4.56" lengthAdjust="spacingAndGlyphs" text-anchor="middle">LF</text>
<text x="267.6" y="230.25" font-size="4.6" textLength="12.38" lengthAdjust="spacingAndGlyphs" text-anchor="middle">208.65</text>
<text x="267.6" y="237.65" font-size="4.6" textLength="12.38" lengthAdjust="spacingAndGlyphs" text-anchor="middle">195.15</text>
<text x="291.2" y="222.65" font-size="4.6" textLength="5.22" lengthAdjust="spacingAndGlyphs" text-anchor="middle">BB</text>
<text x="291.2" y="230.25" font-size="4.6" textLength="12.38" lengthAdjust="spacingAndGlyphs" text-anchor="middle">280.95</text>
<text x="291.2" y="237.65" font-size="4.6" textLength="12.38" lengthAdjust="spacingAndGlyphs" text-anchor="middle">281.55</text>
<text x="314.8" y="222.65" font-size="4.6" textLength="5.65" lengthAdjust="spacingAndGlyphs" text-anchor="middle">EO</text>
<text x="314.8" y="230.25" font-size="4.6" textLength="12.38" lengthAdjust="spacingAndGlyphs" text-anchor="middle">215.55</text>
<text x="314.8" y="237.65" font-size="4.6" textLength="12.38" lengthAdjust="spacingAndGlyphs" text-anchor="middle">258.45</text>
<text x="338.4" y="222.65" font-size="4.6" textLength="4.13" lengthAdjust="spacingAndGlyphs" text-anchor="middle">IO</text>
<text x="338.4" y="230.25" font-size="4.6" textLength="10.13" lengthAdjust="spacingAndGlyphs" text-anchor="middle">228.6</text>
<text x="338.4" y="237.65" font-size="4.6" textLength="10.13" lengthAdjust="spacingAndGlyphs" text-anchor="middle">266.4</text>
<rect x="189.1" y="226.8" width="2.5" height="2.5" fill="#345b98"/>
<text x="192.7" y="230.22" font-size="4.8" textLength="12.2" lengthAdjust="spacingAndGlyphs">Non-F</text>
<rect x="189.1" y="234.2" width="2.5" height="2.5" fill="#839fcf"/>
<text x="192.7" y="237.62" font-size="4.8" textLength="12.9" lengthAdjust="spacingAndGlyphs">With-F</text>
<text x="267.45" y="132.6" font-size="8.2" textLength="55.1" lengthAdjust="spacingAndGlyphs" font-weight="bold" fill="#000" text-anchor="middle" stroke="#000" stroke-width="0.1">Start 2nd Burst</text>
<text transform="translate(191 178.5) rotate(-90)" font-size="4.6" font-weight="bold" text-anchor="middle" fill="#222" textLength="24" lengthAdjust="spacingAndGlyphs">milliseconds</text>
<rect x="26.5" y="333" width="2" height="1" fill="#d6d6d6"/>
<text x="23.8" y="335.75" font-size="4.6" fill="#333" text-anchor="end">0</text>
<rect x="28.5" y="325.89" width="145.9" height="1" fill="#e2e2e2"/>
<rect x="26.5" y="325.89" width="2" height="1" fill="#d6d6d6"/>
<text x="23.8" y="328.64" font-size="4.6" fill="#333" text-anchor="end">50</text>
<rect x="28.5" y="318.78" width="145.9" height="1" fill="#e2e2e2"/>
<rect x="26.5" y="318.78" width="2" height="1" fill="#d6d6d6"/>
<text x="23.8" y="321.53" font-size="4.6" fill="#333" text-anchor="end">100</text>
<rect x="28.5" y="311.67" width="145.9" height="1" fill="#e2e2e2"/>
<rect x="26.5" y="311.67" width="2" height="1" fill="#d6d6d6"/>
<text x="23.8" y="314.42" font-size="4.6" fill="#333" text-anchor="end">150</text>
<rect x="28.5" y="304.56" width="145.9" height="1" fill="#e2e2e2"/>
<rect x="26.5" y="304.56" width="2" height="1" fill="#d6d6d6"/>
<text x="23.8" y="307.31" font-size="4.6" fill="#333" text-anchor="end">200</text>
<rect x="28.5" y="297.45" width="145.9" height="1" fill="#e2e2e2"/>
<rect x="26.5" y="297.45" width="2" height="1" fill="#d6d6d6"/>
<text x="23.8" y="300.2" font-size="4.6" fill="#333" text-anchor="end">250</text>
<rect x="28.5" y="290.34" width="145.9" height="1" fill="#e2e2e2"/>
<rect x="26.5" y="290.34" width="2" height="1" fill="#d6d6d6"/>
<text x="23.8" y="293.09" font-size="4.6" fill="#333" text-anchor="end">300</text>
<rect x="28.5" y="283.23" width="145.9" height="1" fill="#e2e2e2"/>
<rect x="26.5" y="283.23" width="2" height="1" fill="#d6d6d6"/>
<text x="23.8" y="285.98" font-size="4.6" fill="#333" text-anchor="end">350</text>
<rect x="28.5" y="276.12" width="145.9" height="1" fill="#e2e2e2"/>
<rect x="26.5" y="276.12" width="2" height="1" fill="#d6d6d6"/>
<text x="23.8" y="278.87" font-size="4.6" fill="#333" text-anchor="end">400</text>
<rect x="28.5" y="269.01" width="145.9" height="1" fill="#e2e2e2"/>
<rect x="26.5" y="269.01" width="2" height="1" fill="#d6d6d6"/>
<text x="23.8" y="271.76" font-size="4.6" fill="#333" text-anchor="end">450</text>
<rect x="28.5" y="261.9" width="145.9" height="1" fill="#e2e2e2"/>
<rect x="26.5" y="261.9" width="2" height="1" fill="#d6d6d6"/>
<text x="23.8" y="264.65" font-size="4.6" fill="#333" text-anchor="end">500</text>
<rect x="33.9" y="324.48" width="6.4" height="9.02" fill="url(#gL0)"/>
<rect x="58.22" y="325.96" width="6.4" height="7.54" fill="url(#gL0)"/>
<rect x="82.54" y="327.29" width="6.4" height="6.21" fill="url(#gL0)"/>
<rect x="106.85" y="293.09" width="6.4" height="40.41" fill="url(#gL0)"/>
<rect x="131.17" y="312.32" width="6.4" height="21.18" fill="url(#gL0)"/>
<rect x="155.49" y="310.01" width="6.4" height="23.49" fill="url(#gL0)"/>
<rect x="41.01" y="325.19" width="6.4" height="8.31" fill="url(#gL1)"/>
<rect x="65.32" y="325.75" width="6.4" height="7.75" fill="url(#gL1)"/>
<rect x="89.64" y="326.55" width="6.4" height="6.95" fill="url(#gL1)"/>
<rect x="113.96" y="299.57" width="6.4" height="33.93" fill="url(#gL1)"/>
<rect x="138.27" y="316.79" width="6.4" height="16.71" fill="url(#gL1)"/>
<rect x="162.59" y="308.63" width="6.4" height="24.87" fill="url(#gL1)"/>
<rect x="36.83" y="321.2" width="0.9" height="6.6" fill="#5c5c5c"/>
<rect x="36.18" y="320.7" width="2.2" height="1" fill="#333333"/>
<rect x="36.18" y="327.3" width="2.2" height="1" fill="#333333"/>
<rect x="61.15" y="323.7" width="0.9" height="4.7" fill="#5c5c5c"/>
<rect x="60.5" y="323.2" width="2.2" height="1" fill="#333333"/>
<rect x="60.5" y="327.9" width="2.2" height="1" fill="#333333"/>
<rect x="85.46" y="325.7" width="0.9" height="3.7" fill="#5c5c5c"/>
<rect x="84.81" y="325.2" width="2.2" height="1" fill="#333333"/>
<rect x="84.81" y="328.9" width="2.2" height="1" fill="#333333"/>
<rect x="109.78" y="274.3" width="0.9" height="38.1" fill="#5c5c5c"/>
<rect x="109.13" y="273.8" width="2.2" height="1" fill="#333333"/>
<rect x="109.13" y="311.9" width="2.2" height="1" fill="#333333"/>
<rect x="134.1" y="301.3" width="0.9" height="22.2" fill="#5c5c5c"/>
<rect x="133.45" y="300.8" width="2.2" height="1" fill="#333333"/>
<rect x="133.45" y="323" width="2.2" height="1" fill="#333333"/>
<rect x="158.41" y="295" width="0.9" height="30.4" fill="#5c5c5c"/>
<rect x="157.76" y="294.5" width="2.2" height="1" fill="#333333"/>
<rect x="157.76" y="324.9" width="2.2" height="1" fill="#333333"/>
<rect x="43.59" y="322.7" width="0.9" height="4.3" fill="#5c5c5c"/>
<rect x="42.94" y="322.2" width="2.2" height="1" fill="#333333"/>
<rect x="42.94" y="326.5" width="2.2" height="1" fill="#333333"/>
<rect x="67.9" y="323.3" width="0.9" height="5.1" fill="#5c5c5c"/>
<rect x="67.25" y="322.8" width="2.2" height="1" fill="#333333"/>
<rect x="67.25" y="327.9" width="2.2" height="1" fill="#333333"/>
<rect x="92.22" y="323.3" width="0.9" height="6.1" fill="#5c5c5c"/>
<rect x="91.57" y="322.8" width="2.2" height="1" fill="#333333"/>
<rect x="91.57" y="328.9" width="2.2" height="1" fill="#333333"/>
<rect x="116.54" y="278.9" width="0.9" height="41.9" fill="#5c5c5c"/>
<rect x="115.89" y="278.4" width="2.2" height="1" fill="#333333"/>
<rect x="115.89" y="320.3" width="2.2" height="1" fill="#333333"/>
<rect x="140.85" y="309.3" width="0.9" height="15.3" fill="#5c5c5c"/>
<rect x="140.2" y="308.8" width="2.2" height="1" fill="#333333"/>
<rect x="140.2" y="324.1" width="2.2" height="1" fill="#333333"/>
<rect x="165.17" y="290.8" width="0.9" height="35.9" fill="#5c5c5c"/>
<rect x="164.52" y="290.3" width="2.2" height="1" fill="#333333"/>
<rect x="164.52" y="326.2" width="2.2" height="1" fill="#333333"/>
<rect x="28" y="262.4" width="1" height="93.7" fill="#d6d6d6"/>
<rect x="28.5" y="333" width="145.9" height="1" fill="#d6d6d6"/>
<rect x="11.5" y="340.7" width="162.9" height="1" fill="#d4d4d4"/>
<rect x="11.5" y="348.1" width="162.9" height="1" fill="#d4d4d4"/>
<rect x="11.5" y="355.6" width="162.9" height="1" fill="#d4d4d4"/>
<rect x="52.32" y="333.5" width="1" height="22.6" fill="#d4d4d4"/>
<rect x="76.63" y="333.5" width="1" height="22.6" fill="#d4d4d4"/>
<rect x="100.95" y="333.5" width="1" height="22.6" fill="#d4d4d4"/>
<rect x="125.27" y="333.5" width="1" height="22.6" fill="#d4d4d4"/>
<rect x="149.58" y="333.5" width="1" height="22.6" fill="#d4d4d4"/>
<rect x="173.9" y="333.5" width="1" height="22.6" fill="#d4d4d4"/>
<rect x="11" y="341.2" width="1" height="14.9" fill="#d4d4d4"/>
<text x="40.66" y="339.6" font-size="4.6" textLength="5.22" lengthAdjust="spacingAndGlyphs" text-anchor="middle">SE</text>
<text x="40.66" y="347.15" font-size="4.6" textLength="7.88" lengthAdjust="spacingAndGlyphs" text-anchor="middle">63.4</text>
<text x="40.66" y="354.6" font-size="4.6" textLength="10.13" lengthAdjust="spacingAndGlyphs" text-anchor="middle">58.43</text>
<text x="64.97" y="339.6" font-size="4.6" textLength="6.08" lengthAdjust="spacingAndGlyphs" text-anchor="middle">RM</text>
<text x="64.97" y="347.15" font-size="4.6" textLength="10.13" lengthAdjust="spacingAndGlyphs" text-anchor="middle">53.02</text>
<text x="64.97" y="354.6" font-size="4.6" textLength="10.13" lengthAdjust="spacingAndGlyphs" text-anchor="middle">54.52</text>
<text x="89.29" y="339.6" font-size="4.6" textLength="4.56" lengthAdjust="spacingAndGlyphs" text-anchor="middle">LF</text>
<text x="89.29" y="347.15" font-size="4.6" textLength="10.13" lengthAdjust="spacingAndGlyphs" text-anchor="middle">43.67</text>
<text x="89.29" y="354.6" font-size="4.6" textLength="10.13" lengthAdjust="spacingAndGlyphs" text-anchor="middle">48.85</text>
<text x="113.61" y="339.6" font-size="4.6" textLength="5.22" lengthAdjust="spacingAndGlyphs" text-anchor="middle">BB</text>
<text x="113.61" y="347.15" font-size="4.6" textLength="12.38" lengthAdjust="spacingAndGlyphs" text-anchor="middle">284.19</text>
<text x="113.61" y="354.6" font-size="4.6" textLength="12.38" lengthAdjust="spacingAndGlyphs" text-anchor="middle">238.63</text>
<text x="137.93" y="339.6" font-size="4.6" textLength="5.65" lengthAdjust="spacingAndGlyphs" text-anchor="middle">EO</text>
<text x="137.93" y="347.15" font-size="4.6" textLength="12.38" lengthAdjust="spacingAndGlyphs" text-anchor="middle">148.96</text>
<text x="137.93" y="354.6" font-size="4.6" textLength="12.08" lengthAdjust="spacingAndGlyphs" text-anchor="middle">117.52</text>
<text x="162.24" y="339.6" font-size="4.6" textLength="4.13" lengthAdjust="spacingAndGlyphs" text-anchor="middle">IO</text>
<text x="162.24" y="347.15" font-size="4.6" textLength="12.38" lengthAdjust="spacingAndGlyphs" text-anchor="middle">165.17</text>
<text x="162.24" y="354.6" font-size="4.6" textLength="12.38" lengthAdjust="spacingAndGlyphs" text-anchor="middle">174.91</text>
<rect x="13.3" y="343.7" width="2.5" height="2.5" fill="#6f9838"/>
<text x="16.9" y="347.12" font-size="4.8" textLength="3.1" lengthAdjust="spacingAndGlyphs">H</text>
<rect x="13.3" y="351.15" width="2.5" height="2.5" fill="#b1ce8a"/>
<text x="16.9" y="354.57" font-size="4.8" textLength="9.8" lengthAdjust="spacingAndGlyphs">CLBP</text>
<text x="90.6" y="254.6" font-size="8.2" textLength="62.6" lengthAdjust="spacingAndGlyphs" font-weight="bold" fill="#000" text-anchor="middle" stroke="#000" stroke-width="0.1">Duration 1r Burts</text>
<text transform="translate(14 297.95) rotate(-90)" font-size="4.6" font-weight="bold" text-anchor="middle" fill="#222" textLength="24" lengthAdjust="spacingAndGlyphs">milliseconds</text>
<rect x="206.6" y="333" width="2" height="1" fill="#d6d6d6"/>
<text x="203.9" y="335.75" font-size="4.6" fill="#333" text-anchor="end">0</text>
<rect x="208.6" y="325.91" width="142.3" height="1" fill="#e2e2e2"/>
<rect x="206.6" y="325.91" width="2" height="1" fill="#d6d6d6"/>
<text x="203.9" y="328.66" font-size="4.6" fill="#333" text-anchor="end">50</text>
<rect x="208.6" y="318.82" width="142.3" height="1" fill="#e2e2e2"/>
<rect x="206.6" y="318.82" width="2" height="1" fill="#d6d6d6"/>
<text x="203.9" y="321.57" font-size="4.6" fill="#333" text-anchor="end">100</text>
<rect x="208.6" y="311.73" width="142.3" height="1" fill="#e2e2e2"/>
<rect x="206.6" y="311.73" width="2" height="1" fill="#d6d6d6"/>
<text x="203.9" y="314.48" font-size="4.6" fill="#333" text-anchor="end">150</text>
<rect x="208.6" y="304.64" width="142.3" height="1" fill="#e2e2e2"/>
<rect x="206.6" y="304.64" width="2" height="1" fill="#d6d6d6"/>
<text x="203.9" y="307.39" font-size="4.6" fill="#333" text-anchor="end">200</text>
<rect x="208.6" y="297.55" width="142.3" height="1" fill="#e2e2e2"/>
<rect x="206.6" y="297.55" width="2" height="1" fill="#d6d6d6"/>
<text x="203.9" y="300.3" font-size="4.6" fill="#333" text-anchor="end">250</text>
<rect x="208.6" y="290.46" width="142.3" height="1" fill="#e2e2e2"/>
<rect x="206.6" y="290.46" width="2" height="1" fill="#d6d6d6"/>
<text x="203.9" y="293.21" font-size="4.6" fill="#333" text-anchor="end">300</text>
<rect x="208.6" y="283.37" width="142.3" height="1" fill="#e2e2e2"/>
<rect x="206.6" y="283.37" width="2" height="1" fill="#d6d6d6"/>
<text x="203.9" y="286.12" font-size="4.6" fill="#333" text-anchor="end">350</text>
<rect x="208.6" y="276.28" width="142.3" height="1" fill="#e2e2e2"/>
<rect x="206.6" y="276.28" width="2" height="1" fill="#d6d6d6"/>
<text x="203.9" y="279.03" font-size="4.6" fill="#333" text-anchor="end">400</text>
<rect x="208.6" y="269.19" width="142.3" height="1" fill="#e2e2e2"/>
<rect x="206.6" y="269.19" width="2" height="1" fill="#d6d6d6"/>
<text x="203.9" y="271.94" font-size="4.6" fill="#333" text-anchor="end">450</text>
<rect x="208.6" y="262.1" width="142.3" height="1" fill="#e2e2e2"/>
<rect x="206.6" y="262.1" width="2" height="1" fill="#d6d6d6"/>
<text x="203.9" y="264.85" font-size="4.6" fill="#333" text-anchor="end">500</text>
<rect x="213.87" y="323.92" width="6.24" height="9.58" fill="url(#gR0)"/>
<rect x="237.59" y="325.95" width="6.24" height="7.55" fill="url(#gR0)"/>
<rect x="261.3" y="327.34" width="6.24" height="6.16" fill="url(#gR0)"/>
<rect x="285.02" y="292.94" width="6.24" height="40.56" fill="url(#gR0)"/>
<rect x="308.74" y="312.32" width="6.24" height="21.18" fill="url(#gR0)"/>
<rect x="332.45" y="310.62" width="6.24" height="22.88" fill="url(#gR0)"/>
<rect x="220.81" y="324.68" width="6.24" height="8.82" fill="url(#gR1)"/>
<rect x="244.52" y="326.69" width="6.24" height="6.81" fill="url(#gR1)"/>
<rect x="268.24" y="326.66" width="6.24" height="6.84" fill="url(#gR1)"/>
<rect x="291.96" y="311.65" width="6.24" height="21.85" fill="url(#gR1)"/>
<rect x="315.67" y="315.22" width="6.24" height="18.28" fill="url(#gR1)"/>
<rect x="339.39" y="310.25" width="6.24" height="23.25" fill="url(#gR1)"/>
<rect x="216.71" y="320.4" width="0.9" height="7" fill="#5c5c5c"/>
<rect x="216.06" y="319.9" width="2.2" height="1" fill="#333333"/>
<rect x="216.06" y="326.9" width="2.2" height="1" fill="#333333"/>
<rect x="240.43" y="323" width="0.9" height="6.4" fill="#5c5c5c"/>
<rect x="239.78" y="322.5" width="2.2" height="1" fill="#333333"/>
<rect x="239.78" y="328.9" width="2.2" height="1" fill="#333333"/>
<rect x="264.15" y="325.4" width="0.9" height="4" fill="#5c5c5c"/>
<rect x="263.5" y="324.9" width="2.2" height="1" fill="#333333"/>
<rect x="263.5" y="328.9" width="2.2" height="1" fill="#333333"/>
<rect x="287.86" y="272.5" width="0.9" height="41.4" fill="#5c5c5c"/>
<rect x="287.21" y="272" width="2.2" height="1" fill="#333333"/>
<rect x="287.21" y="313.4" width="2.2" height="1" fill="#333333"/>
<rect x="311.58" y="300.8" width="0.9" height="23.2" fill="#5c5c5c"/>
<rect x="310.93" y="300.3" width="2.2" height="1" fill="#333333"/>
<rect x="310.93" y="323.5" width="2.2" height="1" fill="#333333"/>
<rect x="335.3" y="294.2" width="0.9" height="32.8" fill="#5c5c5c"/>
<rect x="334.65" y="293.7" width="2.2" height="1" fill="#333333"/>
<rect x="334.65" y="326.5" width="2.2" height="1" fill="#333333"/>
<rect x="223.3" y="321.4" width="0.9" height="6" fill="#5c5c5c"/>
<rect x="222.65" y="320.9" width="2.2" height="1" fill="#333333"/>
<rect x="222.65" y="326.9" width="2.2" height="1" fill="#333333"/>
<rect x="247.02" y="324.4" width="0.9" height="5" fill="#5c5c5c"/>
<rect x="246.37" y="323.9" width="2.2" height="1" fill="#333333"/>
<rect x="246.37" y="328.9" width="2.2" height="1" fill="#333333"/>
<rect x="270.74" y="324.8" width="0.9" height="3.6" fill="#5c5c5c"/>
<rect x="270.09" y="324.3" width="2.2" height="1" fill="#333333"/>
<rect x="270.09" y="327.9" width="2.2" height="1" fill="#333333"/>
<rect x="294.45" y="298.6" width="0.9" height="25.8" fill="#5c5c5c"/>
<rect x="293.8" y="298.1" width="2.2" height="1" fill="#333333"/>
<rect x="293.8" y="323.9" width="2.2" height="1" fill="#333333"/>
<rect x="318.17" y="303.3" width="0.9" height="24.1" fill="#5c5c5c"/>
<rect x="317.52" y="302.8" width="2.2" height="1" fill="#333333"/>
<rect x="317.52" y="326.9" width="2.2" height="1" fill="#333333"/>
<rect x="341.89" y="295.2" width="0.9" height="30.2" fill="#5c5c5c"/>
<rect x="341.24" y="294.7" width="2.2" height="1" fill="#333333"/>
<rect x="341.24" y="324.9" width="2.2" height="1" fill="#333333"/>
<rect x="208.1" y="262.6" width="1" height="93.7" fill="#d6d6d6"/>
<rect x="208.6" y="333" width="142.3" height="1" fill="#d6d6d6"/>
<rect x="188.7" y="341" width="162.2" height="1" fill="#d4d4d4"/>
<rect x="188.7" y="348.4" width="162.2" height="1" fill="#d4d4d4"/>
<rect x="188.7" y="355.8" width="162.2" height="1" fill="#d4d4d4"/>
<rect x="231.82" y="333.5" width="1" height="22.8" fill="#d4d4d4"/>
<rect x="255.53" y="333.5" width="1" height="22.8" fill="#d4d4d4"/>
<rect x="279.25" y="333.5" width="1" height="22.8" fill="#d4d4d4"/>
<rect x="302.97" y="333.5" width="1" height="22.8" fill="#d4d4d4"/>
<rect x="326.68" y="333.5" width="1" height="22.8" fill="#d4d4d4"/>
<rect x="350.4" y="333.5" width="1" height="22.8" fill="#d4d4d4"/>
<rect x="188.2" y="341.5" width="1" height="14.8" fill="#d4d4d4"/>
<text x="220.46" y="339.75" font-size="4.6" textLength="5.22" lengthAdjust="spacingAndGlyphs" text-anchor="middle">SE</text>
<text x="220.46" y="347.45" font-size="4.6" textLength="10.13" lengthAdjust="spacingAndGlyphs" text-anchor="middle">67.56</text>
<text x="220.46" y="354.85" font-size="4.6" textLength="10.13" lengthAdjust="spacingAndGlyphs" text-anchor="middle">62.22</text>
<text x="244.17" y="339.75" font-size="4.6" textLength="6.08" lengthAdjust="spacingAndGlyphs" text-anchor="middle">RM</text>
<text x="244.17" y="347.45" font-size="4.6" textLength="10.13" lengthAdjust="spacingAndGlyphs" text-anchor="middle">53.22</text>
<text x="244.17" y="354.85" font-size="4.6" textLength="10.13" lengthAdjust="spacingAndGlyphs" text-anchor="middle">48.06</text>
<text x="267.89" y="339.75" font-size="4.6" textLength="4.56" lengthAdjust="spacingAndGlyphs" text-anchor="middle">LF</text>
<text x="267.89" y="347.45" font-size="4.6" textLength="10.13" lengthAdjust="spacingAndGlyphs" text-anchor="middle">43.46</text>
<text x="267.89" y="354.85" font-size="4.6" textLength="10.13" lengthAdjust="spacingAndGlyphs" text-anchor="middle">48.24</text>
<text x="291.61" y="339.75" font-size="4.6" textLength="5.22" lengthAdjust="spacingAndGlyphs" text-anchor="middle">BB</text>
<text x="291.61" y="347.45" font-size="4.6" textLength="12.38" lengthAdjust="spacingAndGlyphs" text-anchor="middle">286.02</text>
<text x="291.61" y="354.85" font-size="4.6" textLength="12.38" lengthAdjust="spacingAndGlyphs" text-anchor="middle">154.08</text>
<text x="315.32" y="339.75" font-size="4.6" textLength="5.65" lengthAdjust="spacingAndGlyphs" text-anchor="middle">EO</text>
<text x="315.32" y="347.45" font-size="4.6" textLength="12.38" lengthAdjust="spacingAndGlyphs" text-anchor="middle">149.34</text>
<text x="315.32" y="354.85" font-size="4.6" textLength="12.38" lengthAdjust="spacingAndGlyphs" text-anchor="middle">128.88</text>
<text x="339.04" y="339.75" font-size="4.6" textLength="4.13" lengthAdjust="spacingAndGlyphs" text-anchor="middle">IO</text>
<text x="339.04" y="347.45" font-size="4.6" textLength="12.38" lengthAdjust="spacingAndGlyphs" text-anchor="middle">161.34</text>
<text x="339.04" y="354.85" font-size="4.6" textLength="12.38" lengthAdjust="spacingAndGlyphs" text-anchor="middle">163.98</text>
<rect x="190.5" y="344" width="2.5" height="2.5" fill="#345b98"/>
<text x="194.1" y="347.42" font-size="4.8" textLength="12.2" lengthAdjust="spacingAndGlyphs">Non-F</text>
<rect x="190.5" y="351.4" width="2.5" height="2.5" fill="#839fcf"/>
<text x="194.1" y="354.82" font-size="4.8" textLength="12.9" lengthAdjust="spacingAndGlyphs">With-F</text>
<text x="268.1" y="254.6" font-size="8.2" textLength="62.6" lengthAdjust="spacingAndGlyphs" font-weight="bold" fill="#000" text-anchor="middle" stroke="#000" stroke-width="0.1">Duration 1r Burts</text>
<text transform="translate(191 298.05) rotate(-90)" font-size="4.6" font-weight="bold" text-anchor="middle" fill="#222" textLength="24" lengthAdjust="spacingAndGlyphs">milliseconds</text>
<rect x="26.5" y="450.3" width="2" height="1" fill="#d6d6d6"/>
<text x="23.8" y="453.05" font-size="4.6" fill="#333" text-anchor="end">0</text>
<rect x="28.5" y="436.06" width="145.2" height="1" fill="#e2e2e2"/>
<rect x="26.5" y="436.06" width="2" height="1" fill="#d6d6d6"/>
<text x="23.8" y="438.81" font-size="4.6" fill="#333" text-anchor="end">50</text>
<rect x="28.5" y="421.82" width="145.2" height="1" fill="#e2e2e2"/>
<rect x="26.5" y="421.82" width="2" height="1" fill="#d6d6d6"/>
<text x="23.8" y="424.57" font-size="4.6" fill="#333" text-anchor="end">100</text>
<rect x="28.5" y="407.58" width="145.2" height="1" fill="#e2e2e2"/>
<rect x="26.5" y="407.58" width="2" height="1" fill="#d6d6d6"/>
<text x="23.8" y="410.33" font-size="4.6" fill="#333" text-anchor="end">150</text>
<rect x="28.5" y="393.34" width="145.2" height="1" fill="#e2e2e2"/>
<rect x="26.5" y="393.34" width="2" height="1" fill="#d6d6d6"/>
<text x="23.8" y="396.09" font-size="4.6" fill="#333" text-anchor="end">200</text>
<rect x="28.5" y="379.1" width="145.2" height="1" fill="#e2e2e2"/>
<rect x="26.5" y="379.1" width="2" height="1" fill="#d6d6d6"/>
<text x="23.8" y="381.85" font-size="4.6" fill="#333" text-anchor="end">250</text>
<rect x="33.88" y="439.4" width="6.37" height="11.4" fill="url(#gL0)"/>
<rect x="58.08" y="440.07" width="6.37" height="10.73" fill="url(#gL0)"/>
<rect x="82.28" y="440.73" width="6.37" height="10.07" fill="url(#gL0)"/>
<rect x="106.48" y="428.27" width="6.37" height="22.53" fill="url(#gL0)"/>
<rect x="130.68" y="435.11" width="6.37" height="15.69" fill="url(#gL0)"/>
<rect x="154.88" y="432.14" width="6.37" height="18.66" fill="url(#gL0)"/>
<rect x="40.95" y="439.19" width="6.37" height="11.61" fill="url(#gL1)"/>
<rect x="65.15" y="439.21" width="6.37" height="11.59" fill="url(#gL1)"/>
<rect x="89.35" y="440.17" width="6.37" height="10.63" fill="url(#gL1)"/>
<rect x="113.55" y="431.8" width="6.37" height="19" fill="url(#gL1)"/>
<rect x="137.75" y="436.8" width="6.37" height="14" fill="url(#gL1)"/>
<rect x="161.95" y="428.11" width="6.37" height="22.69" fill="url(#gL1)"/>
<rect x="36.79" y="436.8" width="0.9" height="5.5" fill="#5c5c5c"/>
<rect x="36.14" y="436.3" width="2.2" height="1" fill="#333333"/>
<rect x="36.14" y="441.8" width="2.2" height="1" fill="#333333"/>
<rect x="60.99" y="437.8" width="0.9" height="5.5" fill="#5c5c5c"/>
<rect x="60.34" y="437.3" width="2.2" height="1" fill="#333333"/>
<rect x="60.34" y="442.8" width="2.2" height="1" fill="#333333"/>
<rect x="85.19" y="438.6" width="0.9" height="5.1" fill="#5c5c5c"/>
<rect x="84.54" y="438.1" width="2.2" height="1" fill="#333333"/>
<rect x="84.54" y="443.2" width="2.2" height="1" fill="#333333"/>
<rect x="109.39" y="419.5" width="0.9" height="17.6" fill="#5c5c5c"/>
<rect x="108.74" y="419" width="2.2" height="1" fill="#333333"/>
<rect x="108.74" y="436.6" width="2.2" height="1" fill="#333333"/>
<rect x="133.59" y="432.1" width="0.9" height="7.1" fill="#5c5c5c"/>
<rect x="132.94" y="431.6" width="2.2" height="1" fill="#333333"/>
<rect x="132.94" y="438.7" width="2.2" height="1" fill="#333333"/>
<rect x="157.79" y="424.1" width="0.9" height="16.2" fill="#5c5c5c"/>
<rect x="157.14" y="423.6" width="2.2" height="1" fill="#333333"/>
<rect x="157.14" y="439.8" width="2.2" height="1" fill="#333333"/>
<rect x="43.51" y="437.6" width="0.9" height="4.1" fill="#5c5c5c"/>
<rect x="42.86" y="437.1" width="2.2" height="1" fill="#333333"/>
<rect x="42.86" y="441.2" width="2.2" height="1" fill="#333333"/>
<rect x="67.71" y="436.6" width="0.9" height="6.1" fill="#5c5c5c"/>
<rect x="67.06" y="436.1" width="2.2" height="1" fill="#333333"/>
<rect x="67.06" y="442.2" width="2.2" height="1" fill="#333333"/>
<rect x="91.91" y="438.6" width="0.9" height="4.3" fill="#5c5c5c"/>
<rect x="91.26" y="438.1" width="2.2" height="1" fill="#333333"/>
<rect x="91.26" y="442.4" width="2.2" height="1" fill="#333333"/>
<rect x="116.11" y="427.7" width="0.9" height="9" fill="#5c5c5c"/>
<rect x="115.46" y="427.2" width="2.2" height="1" fill="#333333"/>
<rect x="115.46" y="436.2" width="2.2" height="1" fill="#333333"/>
<rect x="140.31" y="433.6" width="0.9" height="6.9" fill="#5c5c5c"/>
<rect x="139.66" y="433.1" width="2.2" height="1" fill="#333333"/>
<rect x="139.66" y="440" width="2.2" height="1" fill="#333333"/>
<rect x="164.51" y="418.3" width="0.9" height="19.4" fill="#5c5c5c"/>
<rect x="163.86" y="417.8" width="2.2" height="1" fill="#333333"/>
<rect x="163.86" y="437.2" width="2.2" height="1" fill="#333333"/>
<rect x="28" y="379.6" width="1" height="93.8" fill="#d6d6d6"/>
<rect x="28.5" y="450.3" width="145.2" height="1" fill="#d6d6d6"/>
<rect x="11.7" y="458" width="162" height="1" fill="#d4d4d4"/>
<rect x="11.7" y="465.4" width="162" height="1" fill="#d4d4d4"/>
<rect x="11.7" y="472.9" width="162" height="1" fill="#d4d4d4"/>
<rect x="52.2" y="450.8" width="1" height="22.6" fill="#d4d4d4"/>
<rect x="76.4" y="450.8" width="1" height="22.6" fill="#d4d4d4"/>
<rect x="100.6" y="450.8" width="1" height="22.6" fill="#d4d4d4"/>
<rect x="124.8" y="450.8" width="1" height="22.6" fill="#d4d4d4"/>
<rect x="149" y="450.8" width="1" height="22.6" fill="#d4d4d4"/>
<rect x="173.2" y="450.8" width="1" height="22.6" fill="#d4d4d4"/>
<rect x="11.2" y="458.5" width="1" height="14.9" fill="#d4d4d4"/>
<text x="40.6" y="456.9" font-size="4.6" textLength="5.22" lengthAdjust="spacingAndGlyphs" text-anchor="middle">SE</text>
<text x="40.6" y="464.45" font-size="4.6" textLength="10.13" lengthAdjust="spacingAndGlyphs" text-anchor="middle">40.03</text>
<text x="40.6" y="471.9" font-size="4.6" textLength="10.13" lengthAdjust="spacingAndGlyphs" text-anchor="middle">40.76</text>
<text x="64.8" y="456.9" font-size="4.6" textLength="6.08" lengthAdjust="spacingAndGlyphs" text-anchor="middle">RM</text>
<text x="64.8" y="464.45" font-size="4.6" textLength="10.13" lengthAdjust="spacingAndGlyphs" text-anchor="middle">37.66</text>
<text x="64.8" y="471.9" font-size="4.6" textLength="10.13" lengthAdjust="spacingAndGlyphs" text-anchor="middle">40.68</text>
<text x="89" y="456.9" font-size="4.6" textLength="4.56" lengthAdjust="spacingAndGlyphs" text-anchor="middle">LF</text>
<text x="89" y="464.45" font-size="4.6" textLength="10.13" lengthAdjust="spacingAndGlyphs" text-anchor="middle">35.37</text>
<text x="89" y="471.9" font-size="4.6" textLength="10.13" lengthAdjust="spacingAndGlyphs" text-anchor="middle">37.32</text>
<text x="113.2" y="456.9" font-size="4.6" textLength="5.22" lengthAdjust="spacingAndGlyphs" text-anchor="middle">BB</text>
<text x="113.2" y="464.45" font-size="4.6" textLength="9.83" lengthAdjust="spacingAndGlyphs" text-anchor="middle">79.11</text>
<text x="113.2" y="471.9" font-size="4.6" textLength="10.13" lengthAdjust="spacingAndGlyphs" text-anchor="middle">66.71</text>
<text x="137.4" y="456.9" font-size="4.6" textLength="5.65" lengthAdjust="spacingAndGlyphs" text-anchor="middle">EO</text>
<text x="137.4" y="464.45" font-size="4.6" textLength="10.13" lengthAdjust="spacingAndGlyphs" text-anchor="middle">55.09</text>
<text x="137.4" y="471.9" font-size="4.6" textLength="10.13" lengthAdjust="spacingAndGlyphs" text-anchor="middle">49.15</text>
<text x="161.6" y="456.9" font-size="4.6" textLength="4.13" lengthAdjust="spacingAndGlyphs" text-anchor="middle">IO</text>
<text x="161.6" y="464.45" font-size="4.6" textLength="10.13" lengthAdjust="spacingAndGlyphs" text-anchor="middle">65.53</text>
<text x="161.6" y="471.9" font-size="4.6" textLength="10.13" lengthAdjust="spacingAndGlyphs" text-anchor="middle">79.68</text>
<rect x="13.5" y="461" width="2.5" height="2.5" fill="#6f9838"/>
<text x="17.1" y="464.42" font-size="4.8" textLength="3.1" lengthAdjust="spacingAndGlyphs">H</text>
<rect x="13.5" y="468.45" width="2.5" height="2.5" fill="#b1ce8a"/>
<text x="17.1" y="471.87" font-size="4.8" textLength="9.8" lengthAdjust="spacingAndGlyphs">CLBP</text>
<text x="91" y="371.6" font-size="8.2" textLength="68.4" lengthAdjust="spacingAndGlyphs" font-weight="bold" fill="#000" text-anchor="middle" stroke="#000" stroke-width="0.1">Duration 2nd Burst</text>
<text transform="translate(14 415.2) rotate(-90)" font-size="4.6" font-weight="bold" text-anchor="middle" fill="#222" textLength="24" lengthAdjust="spacingAndGlyphs">milliseconds</text>
<rect x="206.6" y="450.3" width="2" height="1" fill="#d6d6d6"/>
<text x="203.9" y="453.05" font-size="4.6" fill="#333" text-anchor="end">-50</text>
<rect x="208.6" y="438.47" width="141.6" height="1" fill="#e2e2e2"/>
<rect x="206.6" y="438.47" width="2" height="1" fill="#d6d6d6"/>
<text x="203.9" y="441.21" font-size="4.6" fill="#333" text-anchor="end">0</text>
<rect x="208.6" y="426.63" width="141.6" height="1" fill="#e2e2e2"/>
<rect x="206.6" y="426.63" width="2" height="1" fill="#d6d6d6"/>
<text x="203.9" y="429.38" font-size="4.6" fill="#333" text-anchor="end">50</text>
<rect x="208.6" y="414.8" width="141.6" height="1" fill="#e2e2e2"/>
<rect x="206.6" y="414.8" width="2" height="1" fill="#d6d6d6"/>
<text x="203.9" y="417.55" font-size="4.6" fill="#333" text-anchor="end">100</text>
<rect x="208.6" y="402.97" width="141.6" height="1" fill="#e2e2e2"/>
<rect x="206.6" y="402.97" width="2" height="1" fill="#d6d6d6"/>
<text x="203.9" y="405.71" font-size="4.6" fill="#333" text-anchor="end">150</text>
<rect x="208.6" y="391.13" width="141.6" height="1" fill="#e2e2e2"/>
<rect x="206.6" y="391.13" width="2" height="1" fill="#d6d6d6"/>
<text x="203.9" y="393.88" font-size="4.6" fill="#333" text-anchor="end">200</text>
<rect x="208.6" y="379.3" width="141.6" height="1" fill="#e2e2e2"/>
<rect x="206.6" y="379.3" width="2" height="1" fill="#d6d6d6"/>
<text x="203.9" y="382.05" font-size="4.6" fill="#333" text-anchor="end">250</text>
<rect x="213.84" y="430.48" width="6.21" height="8.48" fill="url(#gR0)"/>
<rect x="237.44" y="429.74" width="6.21" height="9.23" fill="url(#gR0)"/>
<rect x="261.04" y="430.34" width="6.21" height="8.63" fill="url(#gR0)"/>
<rect x="284.64" y="421.57" width="6.21" height="17.4" fill="url(#gR0)"/>
<rect x="308.24" y="425.76" width="6.21" height="13.21" fill="url(#gR0)"/>
<rect x="331.84" y="413.97" width="6.21" height="24.99" fill="url(#gR0)"/>
<rect x="220.75" y="429.35" width="6.21" height="9.62" fill="url(#gR1)"/>
<rect x="244.35" y="428.49" width="6.21" height="10.47" fill="url(#gR1)"/>
<rect x="267.95" y="431.01" width="6.21" height="7.95" fill="url(#gR1)"/>
<rect x="291.55" y="424.98" width="6.21" height="13.99" fill="url(#gR1)"/>
<rect x="315.15" y="425.23" width="6.21" height="13.74" fill="url(#gR1)"/>
<rect x="338.75" y="424.2" width="6.21" height="14.77" fill="url(#gR1)"/>
<rect x="216.67" y="429.3" width="0.9" height="3" fill="#5c5c5c"/>
<rect x="216.02" y="428.8" width="2.2" height="1" fill="#333333"/>
<rect x="216.02" y="431.8" width="2.2" height="1" fill="#333333"/>
<rect x="240.27" y="427.7" width="0.9" height="4.2" fill="#5c5c5c"/>
<rect x="239.62" y="427.2" width="2.2" height="1" fill="#333333"/>
<rect x="239.62" y="431.4" width="2.2" height="1" fill="#333333"/>
<rect x="263.87" y="428.3" width="0.9" height="5" fill="#5c5c5c"/>
<rect x="263.22" y="427.8" width="2.2" height="1" fill="#333333"/>
<rect x="263.22" y="432.8" width="2.2" height="1" fill="#333333"/>
<rect x="287.47" y="412.2" width="0.9" height="19.1" fill="#5c5c5c"/>
<rect x="286.82" y="411.7" width="2.2" height="1" fill="#333333"/>
<rect x="286.82" y="430.8" width="2.2" height="1" fill="#333333"/>
<rect x="311.07" y="419.2" width="0.9" height="13.1" fill="#5c5c5c"/>
<rect x="310.42" y="418.7" width="2.2" height="1" fill="#333333"/>
<rect x="310.42" y="431.8" width="2.2" height="1" fill="#333333"/>
<rect x="334.67" y="383.6" width="0.9" height="60.4" fill="#5c5c5c"/>
<rect x="334.02" y="383.1" width="2.2" height="1" fill="#333333"/>
<rect x="334.02" y="443.5" width="2.2" height="1" fill="#333333"/>
<rect x="223.23" y="427.3" width="0.9" height="4.6" fill="#5c5c5c"/>
<rect x="222.58" y="426.8" width="2.2" height="1" fill="#333333"/>
<rect x="222.58" y="431.4" width="2.2" height="1" fill="#333333"/>
<rect x="246.83" y="425.9" width="0.9" height="5.4" fill="#5c5c5c"/>
<rect x="246.18" y="425.4" width="2.2" height="1" fill="#333333"/>
<rect x="246.18" y="430.8" width="2.2" height="1" fill="#333333"/>
<rect x="270.43" y="429.3" width="0.9" height="3.4" fill="#5c5c5c"/>
<rect x="269.78" y="428.8" width="2.2" height="1" fill="#333333"/>
<rect x="269.78" y="432.2" width="2.2" height="1" fill="#333333"/>
<rect x="294.03" y="419.2" width="0.9" height="12.1" fill="#5c5c5c"/>
<rect x="293.38" y="418.7" width="2.2" height="1" fill="#333333"/>
<rect x="293.38" y="430.8" width="2.2" height="1" fill="#333333"/>
<rect x="317.63" y="419.2" width="0.9" height="12.7" fill="#5c5c5c"/>
<rect x="316.98" y="418.7" width="2.2" height="1" fill="#333333"/>
<rect x="316.98" y="431.4" width="2.2" height="1" fill="#333333"/>
<rect x="341.23" y="416.8" width="0.9" height="14.5" fill="#5c5c5c"/>
<rect x="340.58" y="416.3" width="2.2" height="1" fill="#333333"/>
<rect x="340.58" y="430.8" width="2.2" height="1" fill="#333333"/>
<rect x="208.1" y="379.8" width="1" height="93.8" fill="#d6d6d6"/>
<rect x="208.6" y="450.3" width="141.6" height="1" fill="#d6d6d6"/>
<rect x="187.7" y="458" width="162.5" height="1" fill="#d4d4d4"/>
<rect x="187.7" y="465.7" width="162.5" height="1" fill="#d4d4d4"/>
<rect x="187.7" y="473.1" width="162.5" height="1" fill="#d4d4d4"/>
<rect x="231.7" y="450.8" width="1" height="22.8" fill="#d4d4d4"/>
<rect x="255.3" y="450.8" width="1" height="22.8" fill="#d4d4d4"/>
<rect x="278.9" y="450.8" width="1" height="22.8" fill="#d4d4d4"/>
<rect x="302.5" y="450.8" width="1" height="22.8" fill="#d4d4d4"/>
<rect x="326.1" y="450.8" width="1" height="22.8" fill="#d4d4d4"/>
<rect x="349.7" y="450.8" width="1" height="22.8" fill="#d4d4d4"/>
<rect x="187.2" y="458.5" width="1" height="15.1" fill="#d4d4d4"/>
<text x="220.4" y="456.9" font-size="4.6" textLength="5.22" lengthAdjust="spacingAndGlyphs" text-anchor="middle">SE</text>
<text x="220.4" y="464.6" font-size="4.6" textLength="10.13" lengthAdjust="spacingAndGlyphs" text-anchor="middle">35.85</text>
<text x="220.4" y="472.15" font-size="4.6" textLength="10.13" lengthAdjust="spacingAndGlyphs" text-anchor="middle">40.65</text>
<text x="244" y="456.9" font-size="4.6" textLength="6.08" lengthAdjust="spacingAndGlyphs" text-anchor="middle">RM</text>
<text x="244" y="464.6" font-size="4.6" textLength="4.5" lengthAdjust="spacingAndGlyphs" text-anchor="middle">39</text>
<text x="244" y="472.15" font-size="4.6" textLength="10.13" lengthAdjust="spacingAndGlyphs" text-anchor="middle">44.25</text>
<text x="267.6" y="456.9" font-size="4.6" textLength="4.56" lengthAdjust="spacingAndGlyphs" text-anchor="middle">LF</text>
<text x="267.6" y="464.6" font-size="4.6" textLength="10.13" lengthAdjust="spacingAndGlyphs" text-anchor="middle">36.45</text>
<text x="267.6" y="472.15" font-size="4.6" textLength="7.88" lengthAdjust="spacingAndGlyphs" text-anchor="middle">33.6</text>
<text x="291.2" y="456.9" font-size="4.6" textLength="5.22" lengthAdjust="spacingAndGlyphs" text-anchor="middle">BB</text>
<text x="291.2" y="464.6" font-size="4.6" textLength="7.88" lengthAdjust="spacingAndGlyphs" text-anchor="middle">73.5</text>
<text x="291.2" y="472.15" font-size="4.6" textLength="7.88" lengthAdjust="spacingAndGlyphs" text-anchor="middle">59.1</text>
<text x="314.8" y="456.9" font-size="4.6" textLength="5.65" lengthAdjust="spacingAndGlyphs" text-anchor="middle">EO</text>
<text x="314.8" y="464.6" font-size="4.6" textLength="7.88" lengthAdjust="spacingAndGlyphs" text-anchor="middle">55.8</text>
<text x="314.8" y="472.15" font-size="4.6" textLength="10.13" lengthAdjust="spacingAndGlyphs" text-anchor="middle">58.05</text>
<text x="338.4" y="456.9" font-size="4.6" textLength="4.13" lengthAdjust="spacingAndGlyphs" text-anchor="middle">IO</text>
<text x="338.4" y="464.6" font-size="4.6" textLength="10.13" lengthAdjust="spacingAndGlyphs" text-anchor="middle">105.6</text>
<text x="338.4" y="472.15" font-size="4.6" textLength="7.88" lengthAdjust="spacingAndGlyphs" text-anchor="middle">62.4</text>
<rect x="189.5" y="461.15" width="2.5" height="2.5" fill="#345b98"/>
<text x="193.1" y="464.57" font-size="4.8" textLength="12.2" lengthAdjust="spacingAndGlyphs">Non-F</text>
<rect x="189.5" y="468.7" width="2.5" height="2.5" fill="#839fcf"/>
<text x="193.1" y="472.12" font-size="4.8" textLength="12.9" lengthAdjust="spacingAndGlyphs">With-F</text>
<text x="267.4" y="371.9" font-size="8.2" textLength="69.2" lengthAdjust="spacingAndGlyphs" font-weight="bold" fill="#000" text-anchor="middle" stroke="#000" stroke-width="0.1">Duration 2nd Burst</text>
<text transform="translate(191 415.3) rotate(-90)" font-size="4.6" font-weight="bold" text-anchor="middle" fill="#222" textLength="24" lengthAdjust="spacingAndGlyphs">milliseconds</text>
<rect x="25.8" y="594.8" width="2" height="1" fill="#d6d6d6"/>
<text x="23.2" y="597.55" font-size="4.6" fill="#333" text-anchor="end">0</text>
<rect x="28" y="583.88" width="146.4" height="1" fill="#e2e2e2"/>
<rect x="25.8" y="583.88" width="2" height="1" fill="#d6d6d6"/>
<text x="23.2" y="586.62" font-size="4.6" fill="#333" text-anchor="end">0.5</text>
<rect x="28" y="572.96" width="146.4" height="1" fill="#e2e2e2"/>
<rect x="25.8" y="572.96" width="2" height="1" fill="#d6d6d6"/>
<text x="23.2" y="575.7" font-size="4.6" fill="#333" text-anchor="end">1</text>
<rect x="28" y="562.03" width="146.4" height="1" fill="#e2e2e2"/>
<rect x="25.8" y="562.03" width="2" height="1" fill="#d6d6d6"/>
<text x="23.2" y="564.78" font-size="4.6" fill="#333" text-anchor="end">1.5</text>
<rect x="28" y="551.11" width="146.4" height="1" fill="#e2e2e2"/>
<rect x="25.8" y="551.11" width="2" height="1" fill="#d6d6d6"/>
<text x="23.2" y="553.86" font-size="4.6" fill="#333" text-anchor="end">2</text>
<rect x="28" y="540.19" width="146.4" height="1" fill="#e2e2e2"/>
<rect x="25.8" y="540.19" width="2" height="1" fill="#d6d6d6"/>
<text x="23.2" y="542.94" font-size="4.6" fill="#333" text-anchor="end">2.5</text>
<rect x="28" y="529.27" width="146.4" height="1" fill="#e2e2e2"/>
<rect x="25.8" y="529.27" width="2" height="1" fill="#d6d6d6"/>
<text x="23.2" y="532.01" font-size="4.6" fill="#333" text-anchor="end">3</text>
<rect x="28" y="518.34" width="146.4" height="1" fill="#e2e2e2"/>
<rect x="25.8" y="518.34" width="2" height="1" fill="#d6d6d6"/>
<text x="23.2" y="521.09" font-size="4.6" fill="#333" text-anchor="end">3.5</text>
<rect x="28" y="507.42" width="146.4" height="1" fill="#e2e2e2"/>
<rect x="25.8" y="507.42" width="2" height="1" fill="#d6d6d6"/>
<text x="23.2" y="510.17" font-size="4.6" fill="#333" text-anchor="end">4</text>
<rect x="28" y="496.5" width="146.4" height="1" fill="#e2e2e2"/>
<rect x="25.8" y="496.5" width="2" height="1" fill="#d6d6d6"/>
<text x="23.2" y="499.25" font-size="4.6" fill="#333" text-anchor="end">4.5</text>
<rect x="33.42" y="536.98" width="6.43" height="58.32" fill="url(#gL0)"/>
<rect x="57.82" y="534.35" width="6.43" height="60.95" fill="url(#gL0)"/>
<rect x="82.22" y="541.56" width="6.43" height="53.74" fill="url(#gL0)"/>
<rect x="106.62" y="542.87" width="6.43" height="52.43" fill="url(#gL0)"/>
<rect x="131.02" y="543.97" width="6.43" height="51.33" fill="url(#gL0)"/>
<rect x="155.42" y="531.95" width="6.43" height="63.35" fill="url(#gL0)"/>
<rect x="40.55" y="543.53" width="6.43" height="51.77" fill="url(#gL1)"/>
<rect x="64.95" y="539.82" width="6.43" height="55.48" fill="url(#gL1)"/>
<rect x="89.35" y="537.41" width="6.43" height="57.89" fill="url(#gL1)"/>
<rect x="113.75" y="538.72" width="6.43" height="56.58" fill="url(#gL1)"/>
<rect x="138.15" y="541.13" width="6.43" height="54.17" fill="url(#gL1)"/>
<rect x="162.55" y="538.29" width="6.43" height="57.01" fill="url(#gL1)"/>
<rect x="36.36" y="522.3" width="0.9" height="28.9" fill="#5c5c5c"/>
<rect x="35.71" y="521.8" width="2.2" height="1" fill="#333333"/>
<rect x="35.71" y="550.7" width="2.2" height="1" fill="#333333"/>
<rect x="60.76" y="518.1" width="0.9" height="32.3" fill="#5c5c5c"/>
<rect x="60.11" y="517.6" width="2.2" height="1" fill="#333333"/>
<rect x="60.11" y="549.9" width="2.2" height="1" fill="#333333"/>
<rect x="85.16" y="524.3" width="0.9" height="34.1" fill="#5c5c5c"/>
<rect x="84.51" y="523.8" width="2.2" height="1" fill="#333333"/>
<rect x="84.51" y="557.9" width="2.2" height="1" fill="#333333"/>
<rect x="109.56" y="527.5" width="0.9" height="30.8" fill="#5c5c5c"/>
<rect x="108.91" y="527" width="2.2" height="1" fill="#333333"/>
<rect x="108.91" y="557.8" width="2.2" height="1" fill="#333333"/>
<rect x="133.96" y="533.4" width="0.9" height="21.3" fill="#5c5c5c"/>
<rect x="133.31" y="532.9" width="2.2" height="1" fill="#333333"/>
<rect x="133.31" y="554.2" width="2.2" height="1" fill="#333333"/>
<rect x="158.36" y="516.4" width="0.9" height="31" fill="#5c5c5c"/>
<rect x="157.71" y="515.9" width="2.2" height="1" fill="#333333"/>
<rect x="157.71" y="546.9" width="2.2" height="1" fill="#333333"/>
<rect x="43.14" y="528.1" width="0.9" height="31.4" fill="#5c5c5c"/>
<rect x="42.49" y="527.6" width="2.2" height="1" fill="#333333"/>
<rect x="42.49" y="559" width="2.2" height="1" fill="#333333"/>
<rect x="67.54" y="521.4" width="0.9" height="36.6" fill="#5c5c5c"/>
<rect x="66.89" y="520.9" width="2.2" height="1" fill="#333333"/>
<rect x="66.89" y="557.5" width="2.2" height="1" fill="#333333"/>
<rect x="91.94" y="518.3" width="0.9" height="38.1" fill="#5c5c5c"/>
<rect x="91.29" y="517.8" width="2.2" height="1" fill="#333333"/>
<rect x="91.29" y="555.9" width="2.2" height="1" fill="#333333"/>
<rect x="116.34" y="520.6" width="0.9" height="36.7" fill="#5c5c5c"/>
<rect x="115.69" y="520.1" width="2.2" height="1" fill="#333333"/>
<rect x="115.69" y="556.8" width="2.2" height="1" fill="#333333"/>
<rect x="140.74" y="525.4" width="0.9" height="32.1" fill="#5c5c5c"/>
<rect x="140.09" y="524.9" width="2.2" height="1" fill="#333333"/>
<rect x="140.09" y="557" width="2.2" height="1" fill="#333333"/>
<rect x="165.14" y="522.9" width="0.9" height="31.8" fill="#5c5c5c"/>
<rect x="164.49" y="522.4" width="2.2" height="1" fill="#333333"/>
<rect x="164.49" y="554.2" width="2.2" height="1" fill="#333333"/>
<rect x="27.3" y="497" width="1" height="121" fill="#d6d6d6"/>
<rect x="28" y="594.8" width="146.4" height="1" fill="#d6d6d6"/>
<rect x="10.9" y="602.1" width="163.5" height="1" fill="#d4d4d4"/>
<rect x="10.9" y="609.9" width="163.5" height="1" fill="#d4d4d4"/>
<rect x="10.9" y="617.5" width="163.5" height="1" fill="#d4d4d4"/>
<rect x="51.9" y="595.3" width="1" height="22.7" fill="#d4d4d4"/>
<rect x="76.3" y="595.3" width="1" height="22.7" fill="#d4d4d4"/>
<rect x="100.7" y="595.3" width="1" height="22.7" fill="#d4d4d4"/>
<rect x="125.1" y="595.3" width="1" height="22.7" fill="#d4d4d4"/>
<rect x="149.5" y="595.3" width="1" height="22.7" fill="#d4d4d4"/>
<rect x="173.9" y="595.3" width="1" height="22.7" fill="#d4d4d4"/>
<rect x="10.4" y="602.6" width="1" height="15.4" fill="#d4d4d4"/>
<text x="40.2" y="601.2" font-size="4.6" textLength="5.22" lengthAdjust="spacingAndGlyphs" text-anchor="middle">SE</text>
<text x="40.2" y="608.75" font-size="4.6" textLength="7.88" lengthAdjust="spacingAndGlyphs" text-anchor="middle">2.67</text>
<text x="40.2" y="616.45" font-size="4.6" textLength="7.88" lengthAdjust="spacingAndGlyphs" text-anchor="middle">2.37</text>
<text x="64.6" y="601.2" font-size="4.6" textLength="6.08" lengthAdjust="spacingAndGlyphs" text-anchor="middle">RM</text>
<text x="64.6" y="608.75" font-size="4.6" textLength="7.88" lengthAdjust="spacingAndGlyphs" text-anchor="middle">2.79</text>
<text x="64.6" y="616.45" font-size="4.6" textLength="7.88" lengthAdjust="spacingAndGlyphs" text-anchor="middle">2.54</text>
<text x="89" y="601.2" font-size="4.6" textLength="4.56" lengthAdjust="spacingAndGlyphs" text-anchor="middle">LF</text>
<text x="89" y="608.75" font-size="4.6" textLength="7.88" lengthAdjust="spacingAndGlyphs" text-anchor="middle">2.46</text>
<text x="89" y="616.45" font-size="4.6" textLength="7.88" lengthAdjust="spacingAndGlyphs" text-anchor="middle">2.65</text>
<text x="113.4" y="601.2" font-size="4.6" textLength="5.22" lengthAdjust="spacingAndGlyphs" text-anchor="middle">BB</text>
<text x="113.4" y="608.75" font-size="4.6" textLength="5.63" lengthAdjust="spacingAndGlyphs" text-anchor="middle">2.4</text>
<text x="113.4" y="616.45" font-size="4.6" textLength="7.88" lengthAdjust="spacingAndGlyphs" text-anchor="middle">2.59</text>
<text x="137.8" y="601.2" font-size="4.6" textLength="5.65" lengthAdjust="spacingAndGlyphs" text-anchor="middle">EO</text>
<text x="137.8" y="608.75" font-size="4.6" textLength="7.88" lengthAdjust="spacingAndGlyphs" text-anchor="middle">2.35</text>
<text x="137.8" y="616.45" font-size="4.6" textLength="7.88" lengthAdjust="spacingAndGlyphs" text-anchor="middle">2.48</text>
<text x="162.2" y="601.2" font-size="4.6" textLength="4.13" lengthAdjust="spacingAndGlyphs" text-anchor="middle">IO</text>
<text x="162.2" y="608.75" font-size="4.6" textLength="5.63" lengthAdjust="spacingAndGlyphs" text-anchor="middle">2.9</text>
<text x="162.2" y="616.45" font-size="4.6" textLength="7.88" lengthAdjust="spacingAndGlyphs" text-anchor="middle">2.61</text>
<rect x="12.7" y="605.3" width="2.5" height="2.5" fill="#6f9838"/>
<text x="16.3" y="608.72" font-size="4.8" textLength="3.1" lengthAdjust="spacingAndGlyphs">H</text>
<rect x="12.7" y="613" width="2.5" height="2.5" fill="#b1ce8a"/>
<text x="16.3" y="616.42" font-size="4.8" textLength="9.8" lengthAdjust="spacingAndGlyphs">CLBP</text>
<text x="90.8" y="489.2" font-size="8.2" textLength="138.2" lengthAdjust="spacingAndGlyphs" font-weight="bold" fill="#000" text-anchor="middle" stroke="#000" stroke-width="0.1">Number of burst following the impact</text>
<text transform="translate(14 546.15) rotate(-90)" font-size="4.6" font-weight="bold" text-anchor="middle" fill="#222" textLength="33.2" lengthAdjust="spacingAndGlyphs">Number of burst</text>
<rect x="206.6" y="595.1" width="2" height="1" fill="#d6d6d6"/>
<text x="203.9" y="597.85" font-size="4.6" fill="#333" text-anchor="end">0</text>
<rect x="208.6" y="584.18" width="141.6" height="1" fill="#e2e2e2"/>
<rect x="206.6" y="584.18" width="2" height="1" fill="#d6d6d6"/>
<text x="203.9" y="586.92" font-size="4.6" fill="#333" text-anchor="end">0.5</text>
<rect x="208.6" y="573.26" width="141.6" height="1" fill="#e2e2e2"/>
<rect x="206.6" y="573.26" width="2" height="1" fill="#d6d6d6"/>
<text x="203.9" y="576" font-size="4.6" fill="#333" text-anchor="end">1</text>
<rect x="208.6" y="562.33" width="141.6" height="1" fill="#e2e2e2"/>
<rect x="206.6" y="562.33" width="2" height="1" fill="#d6d6d6"/>
<text x="203.9" y="565.08" font-size="4.6" fill="#333" text-anchor="end">1.5</text>
<rect x="208.6" y="551.41" width="141.6" height="1" fill="#e2e2e2"/>
<rect x="206.6" y="551.41" width="2" height="1" fill="#d6d6d6"/>
<text x="203.9" y="554.16" font-size="4.6" fill="#333" text-anchor="end">2</text>
<rect x="208.6" y="540.49" width="141.6" height="1" fill="#e2e2e2"/>
<rect x="206.6" y="540.49" width="2" height="1" fill="#d6d6d6"/>
<text x="203.9" y="543.24" font-size="4.6" fill="#333" text-anchor="end">2.5</text>
<rect x="208.6" y="529.57" width="141.6" height="1" fill="#e2e2e2"/>
<rect x="206.6" y="529.57" width="2" height="1" fill="#d6d6d6"/>
<text x="203.9" y="532.31" font-size="4.6" fill="#333" text-anchor="end">3</text>
<rect x="208.6" y="518.64" width="141.6" height="1" fill="#e2e2e2"/>
<rect x="206.6" y="518.64" width="2" height="1" fill="#d6d6d6"/>
<text x="203.9" y="521.39" font-size="4.6" fill="#333" text-anchor="end">3.5</text>
<rect x="208.6" y="507.72" width="141.6" height="1" fill="#e2e2e2"/>
<rect x="206.6" y="507.72" width="2" height="1" fill="#d6d6d6"/>
<text x="203.9" y="510.47" font-size="4.6" fill="#333" text-anchor="end">4</text>
<rect x="208.6" y="496.8" width="141.6" height="1" fill="#e2e2e2"/>
<rect x="206.6" y="496.8" width="2" height="1" fill="#d6d6d6"/>
<text x="203.9" y="499.55" font-size="4.6" fill="#333" text-anchor="end">4.5</text>
<rect x="213.84" y="536.62" width="6.21" height="58.98" fill="url(#gR0)"/>
<rect x="237.44" y="535.75" width="6.21" height="59.85" fill="url(#gR0)"/>
<rect x="261.04" y="540.12" width="6.21" height="55.48" fill="url(#gR0)"/>
<rect x="284.64" y="540.55" width="6.21" height="55.05" fill="url(#gR0)"/>
<rect x="308.24" y="539.24" width="6.21" height="56.36" fill="url(#gR0)"/>
<rect x="331.84" y="530.5" width="6.21" height="65.1" fill="url(#gR0)"/>
<rect x="220.75" y="549.29" width="6.21" height="46.31" fill="url(#gR1)"/>
<rect x="244.35" y="541.43" width="6.21" height="54.17" fill="url(#gR1)"/>
<rect x="267.95" y="542.3" width="6.21" height="53.3" fill="url(#gR1)"/>
<rect x="291.55" y="536.18" width="6.21" height="59.42" fill="url(#gR1)"/>
<rect x="315.15" y="549.73" width="6.21" height="45.87" fill="url(#gR1)"/>
<rect x="338.75" y="537.93" width="6.21" height="57.67" fill="url(#gR1)"/>
<rect x="216.67" y="520.2" width="0.9" height="32.8" fill="#5c5c5c"/>
<rect x="216.02" y="519.7" width="2.2" height="1" fill="#333333"/>
<rect x="216.02" y="552.5" width="2.2" height="1" fill="#333333"/>
<rect x="240.27" y="518.5" width="0.9" height="34.8" fill="#5c5c5c"/>
<rect x="239.62" y="518" width="2.2" height="1" fill="#333333"/>
<rect x="239.62" y="552.8" width="2.2" height="1" fill="#333333"/>
<rect x="263.87" y="518.7" width="0.9" height="42.7" fill="#5c5c5c"/>
<rect x="263.22" y="518.2" width="2.2" height="1" fill="#333333"/>
<rect x="263.22" y="560.9" width="2.2" height="1" fill="#333333"/>
<rect x="287.47" y="521.2" width="0.9" height="38.6" fill="#5c5c5c"/>
<rect x="286.82" y="520.7" width="2.2" height="1" fill="#333333"/>
<rect x="286.82" y="559.3" width="2.2" height="1" fill="#333333"/>
<rect x="311.07" y="522.8" width="0.9" height="32.6" fill="#5c5c5c"/>
<rect x="310.42" y="522.3" width="2.2" height="1" fill="#333333"/>
<rect x="310.42" y="554.9" width="2.2" height="1" fill="#333333"/>
<rect x="334.67" y="512.1" width="0.9" height="36.8" fill="#5c5c5c"/>
<rect x="334.02" y="511.6" width="2.2" height="1" fill="#333333"/>
<rect x="334.02" y="548.4" width="2.2" height="1" fill="#333333"/>
<rect x="223.23" y="533.2" width="0.9" height="31.8" fill="#5c5c5c"/>
<rect x="222.58" y="532.7" width="2.2" height="1" fill="#333333"/>
<rect x="222.58" y="564.5" width="2.2" height="1" fill="#333333"/>
<rect x="246.83" y="525.2" width="0.9" height="32.2" fill="#5c5c5c"/>
<rect x="246.18" y="524.7" width="2.2" height="1" fill="#333333"/>
<rect x="246.18" y="556.9" width="2.2" height="1" fill="#333333"/>
<rect x="270.43" y="522.8" width="0.9" height="38.6" fill="#5c5c5c"/>
<rect x="269.78" y="522.3" width="2.2" height="1" fill="#333333"/>
<rect x="269.78" y="560.9" width="2.2" height="1" fill="#333333"/>
<rect x="294.03" y="516.5" width="0.9" height="38.9" fill="#5c5c5c"/>
<rect x="293.38" y="516" width="2.2" height="1" fill="#333333"/>
<rect x="293.38" y="554.9" width="2.2" height="1" fill="#333333"/>
<rect x="317.63" y="531.6" width="0.9" height="35.8" fill="#5c5c5c"/>
<rect x="316.98" y="531.1" width="2.2" height="1" fill="#333333"/>
<rect x="316.98" y="566.9" width="2.2" height="1" fill="#333333"/>
<rect x="341.23" y="521.6" width="0.9" height="32.8" fill="#5c5c5c"/>
<rect x="340.58" y="521.1" width="2.2" height="1" fill="#333333"/>
<rect x="340.58" y="553.9" width="2.2" height="1" fill="#333333"/>
<rect x="208.1" y="497.3" width="1" height="120.7" fill="#d6d6d6"/>
<rect x="208.6" y="595.1" width="141.6" height="1" fill="#d6d6d6"/>
<rect x="188.1" y="602.7" width="162.1" height="1" fill="#d4d4d4"/>
<rect x="188.1" y="610.1" width="162.1" height="1" fill="#d4d4d4"/>
<rect x="188.1" y="617.5" width="162.1" height="1" fill="#d4d4d4"/>
<rect x="231.7" y="595.6" width="1" height="22.4" fill="#d4d4d4"/>
<rect x="255.3" y="595.6" width="1" height="22.4" fill="#d4d4d4"/>
<rect x="278.9" y="595.6" width="1" height="22.4" fill="#d4d4d4"/>
<rect x="302.5" y="595.6" width="1" height="22.4" fill="#d4d4d4"/>
<rect x="326.1" y="595.6" width="1" height="22.4" fill="#d4d4d4"/>
<rect x="349.7" y="595.6" width="1" height="22.4" fill="#d4d4d4"/>
<rect x="187.6" y="603.2" width="1" height="14.8" fill="#d4d4d4"/>
<text x="220.4" y="601.65" font-size="4.6" textLength="5.22" lengthAdjust="spacingAndGlyphs" text-anchor="middle">SE</text>
<text x="220.4" y="609.15" font-size="4.6" textLength="5.63" lengthAdjust="spacingAndGlyphs" text-anchor="middle">2.7</text>
<text x="220.4" y="616.55" font-size="4.6" textLength="7.88" lengthAdjust="spacingAndGlyphs" text-anchor="middle">2.12</text>
<text x="244" y="601.65" font-size="4.6" textLength="6.08" lengthAdjust="spacingAndGlyphs" text-anchor="middle">RM</text>
<text x="244" y="609.15" font-size="4.6" textLength="7.88" lengthAdjust="spacingAndGlyphs" text-anchor="middle">2.74</text>
<text x="244" y="616.55" font-size="4.6" textLength="7.88" lengthAdjust="spacingAndGlyphs" text-anchor="middle">2.48</text>
<text x="267.6" y="601.65" font-size="4.6" textLength="4.56" lengthAdjust="spacingAndGlyphs" text-anchor="middle">LF</text>
<text x="267.6" y="609.15" font-size="4.6" textLength="7.88" lengthAdjust="spacingAndGlyphs" text-anchor="middle">2.54</text>
<text x="267.6" y="616.55" font-size="4.6" textLength="7.88" lengthAdjust="spacingAndGlyphs" text-anchor="middle">2.44</text>
<text x="291.2" y="601.65" font-size="4.6" textLength="5.22" lengthAdjust="spacingAndGlyphs" text-anchor="middle">BB</text>
<text x="291.2" y="609.15" font-size="4.6" textLength="7.88" lengthAdjust="spacingAndGlyphs" text-anchor="middle">2.52</text>
<text x="291.2" y="616.55" font-size="4.6" textLength="7.88" lengthAdjust="spacingAndGlyphs" text-anchor="middle">2.72</text>
<text x="314.8" y="601.65" font-size="4.6" textLength="5.65" lengthAdjust="spacingAndGlyphs" text-anchor="middle">EO</text>
<text x="314.8" y="609.15" font-size="4.6" textLength="7.88" lengthAdjust="spacingAndGlyphs" text-anchor="middle">2.58</text>
<text x="314.8" y="616.55" font-size="4.6" textLength="5.63" lengthAdjust="spacingAndGlyphs" text-anchor="middle">2.1</text>
<text x="338.4" y="601.65" font-size="4.6" textLength="4.13" lengthAdjust="spacingAndGlyphs" text-anchor="middle">IO</text>
<text x="338.4" y="609.15" font-size="4.6" textLength="7.88" lengthAdjust="spacingAndGlyphs" text-anchor="middle">2.98</text>
<text x="338.4" y="616.55" font-size="4.6" textLength="7.88" lengthAdjust="spacingAndGlyphs" text-anchor="middle">2.64</text>
<rect x="189.9" y="605.7" width="2.5" height="2.5" fill="#345b98"/>
<text x="193.5" y="609.12" font-size="4.8" textLength="12.2" lengthAdjust="spacingAndGlyphs">Non-F</text>
<rect x="189.9" y="613.1" width="2.5" height="2.5" fill="#839fcf"/>
<text x="193.5" y="616.52" font-size="4.8" textLength="12.9" lengthAdjust="spacingAndGlyphs">With-F</text>
<text x="268" y="488.9" font-size="8.2" textLength="137.4" lengthAdjust="spacingAndGlyphs" font-weight="bold" fill="#000" text-anchor="middle" stroke="#000" stroke-width="0.1">Number of burst following the impact</text>
<text transform="translate(191 546.45) rotate(-90)" font-size="4.6" font-weight="bold" text-anchor="middle" fill="#222" textLength="33.2" lengthAdjust="spacingAndGlyphs">Number of burst</text>
<rect x="25.8" y="707.3" width="2" height="1" fill="#d6d6d6"/>
<text x="23.4" y="710.05" font-size="4.6" fill="#333" text-anchor="end">0</text>
<rect x="28" y="696.27" width="146.4" height="1" fill="#e2e2e2"/>
<rect x="25.8" y="696.27" width="2" height="1" fill="#d6d6d6"/>
<text x="23.4" y="699.01" font-size="4.6" fill="#333" text-anchor="end">2</text>
<rect x="28" y="685.23" width="146.4" height="1" fill="#e2e2e2"/>
<rect x="25.8" y="685.23" width="2" height="1" fill="#d6d6d6"/>
<text x="23.4" y="687.98" font-size="4.6" fill="#333" text-anchor="end">4</text>
<rect x="28" y="674.2" width="146.4" height="1" fill="#e2e2e2"/>
<rect x="25.8" y="674.2" width="2" height="1" fill="#d6d6d6"/>
<text x="23.4" y="676.95" font-size="4.6" fill="#333" text-anchor="end">6</text>
<rect x="28" y="663.17" width="146.4" height="1" fill="#e2e2e2"/>
<rect x="25.8" y="663.17" width="2" height="1" fill="#d6d6d6"/>
<text x="23.4" y="665.91" font-size="4.6" fill="#333" text-anchor="end">8</text>
<rect x="28" y="652.13" width="146.4" height="1" fill="#e2e2e2"/>
<rect x="25.8" y="652.13" width="2" height="1" fill="#d6d6d6"/>
<text x="23.4" y="654.88" font-size="4.6" fill="#333" text-anchor="end">10</text>
<rect x="28" y="641.1" width="146.4" height="1" fill="#e2e2e2"/>
<rect x="25.8" y="641.1" width="2" height="1" fill="#d6d6d6"/>
<text x="23.4" y="643.85" font-size="4.6" fill="#333" text-anchor="end">12</text>
<rect x="33.42" y="698.31" width="6.43" height="9.49" fill="url(#gL0)"/>
<rect x="57.82" y="699.03" width="6.43" height="8.77" fill="url(#gL0)"/>
<rect x="82.22" y="699.47" width="6.43" height="8.33" fill="url(#gL0)"/>
<rect x="106.62" y="681.1" width="6.43" height="26.7" fill="url(#gL0)"/>
<rect x="131.02" y="697.32" width="6.43" height="10.48" fill="url(#gL0)"/>
<rect x="155.42" y="691.91" width="6.43" height="15.89" fill="url(#gL0)"/>
<rect x="40.55" y="698.64" width="6.43" height="9.16" fill="url(#gL1)"/>
<rect x="64.95" y="698.97" width="6.43" height="8.83" fill="url(#gL1)"/>
<rect x="89.35" y="699.14" width="6.43" height="8.66" fill="url(#gL1)"/>
<rect x="113.75" y="677.13" width="6.43" height="30.67" fill="url(#gL1)"/>
<rect x="138.15" y="696.38" width="6.43" height="11.42" fill="url(#gL1)"/>
<rect x="162.55" y="689.54" width="6.43" height="18.26" fill="url(#gL1)"/>
<rect x="36.36" y="696.6" width="0.9" height="3.6" fill="#5c5c5c"/>
<rect x="35.71" y="696.1" width="2.2" height="1" fill="#333333"/>
<rect x="35.71" y="699.7" width="2.2" height="1" fill="#333333"/>
<rect x="60.76" y="697.6" width="0.9" height="3.7" fill="#5c5c5c"/>
<rect x="60.11" y="697.1" width="2.2" height="1" fill="#333333"/>
<rect x="60.11" y="700.8" width="2.2" height="1" fill="#333333"/>
<rect x="85.16" y="698.6" width="0.9" height="2.3" fill="#5c5c5c"/>
<rect x="84.51" y="698.1" width="2.2" height="1" fill="#333333"/>
<rect x="84.51" y="700.4" width="2.2" height="1" fill="#333333"/>
<rect x="109.56" y="670.9" width="0.9" height="20.6" fill="#5c5c5c"/>
<rect x="108.91" y="670.4" width="2.2" height="1" fill="#333333"/>
<rect x="108.91" y="691" width="2.2" height="1" fill="#333333"/>
<rect x="133.96" y="693.6" width="0.9" height="8.4" fill="#5c5c5c"/>
<rect x="133.31" y="693.1" width="2.2" height="1" fill="#333333"/>
<rect x="133.31" y="701.5" width="2.2" height="1" fill="#333333"/>
<rect x="158.36" y="681.6" width="0.9" height="20.4" fill="#5c5c5c"/>
<rect x="157.71" y="681.1" width="2.2" height="1" fill="#333333"/>
<rect x="157.71" y="701.5" width="2.2" height="1" fill="#333333"/>
<rect x="43.14" y="697.6" width="0.9" height="2.6" fill="#5c5c5c"/>
<rect x="42.49" y="697.1" width="2.2" height="1" fill="#333333"/>
<rect x="42.49" y="699.7" width="2.2" height="1" fill="#333333"/>
<rect x="67.54" y="697.2" width="0.9" height="3.5" fill="#5c5c5c"/>
<rect x="66.89" y="696.7" width="2.2" height="1" fill="#333333"/>
<rect x="66.89" y="700.2" width="2.2" height="1" fill="#333333"/>
<rect x="91.94" y="697.6" width="0.9" height="3.3" fill="#5c5c5c"/>
<rect x="91.29" y="697.1" width="2.2" height="1" fill="#333333"/>
<rect x="91.29" y="700.4" width="2.2" height="1" fill="#333333"/>
<rect x="116.34" y="651.2" width="0.9" height="51.8" fill="#5c5c5c"/>
<rect x="115.69" y="650.7" width="2.2" height="1" fill="#333333"/>
<rect x="115.69" y="702.5" width="2.2" height="1" fill="#333333"/>
<rect x="140.74" y="692.1" width="0.9" height="8.8" fill="#5c5c5c"/>
<rect x="140.09" y="691.6" width="2.2" height="1" fill="#333333"/>
<rect x="140.09" y="700.4" width="2.2" height="1" fill="#333333"/>
<rect x="165.14" y="678.3" width="0.9" height="22.2" fill="#5c5c5c"/>
<rect x="164.49" y="677.8" width="2.2" height="1" fill="#333333"/>
<rect x="164.49" y="700" width="2.2" height="1" fill="#333333"/>
<rect x="27.3" y="641.6" width="1" height="88.8" fill="#d6d6d6"/>
<rect x="28" y="707.3" width="146.4" height="1" fill="#d6d6d6"/>
<rect x="11.5" y="715" width="162.9" height="1" fill="#d4d4d4"/>
<rect x="11.5" y="722.4" width="162.9" height="1" fill="#d4d4d4"/>
<rect x="11.5" y="729.9" width="162.9" height="1" fill="#d4d4d4"/>
<rect x="51.9" y="707.8" width="1" height="22.6" fill="#d4d4d4"/>
<rect x="76.3" y="707.8" width="1" height="22.6" fill="#d4d4d4"/>
<rect x="100.7" y="707.8" width="1" height="22.6" fill="#d4d4d4"/>
<rect x="125.1" y="707.8" width="1" height="22.6" fill="#d4d4d4"/>
<rect x="149.5" y="707.8" width="1" height="22.6" fill="#d4d4d4"/>
<rect x="173.9" y="707.8" width="1" height="22.6" fill="#d4d4d4"/>
<rect x="11" y="715.5" width="1" height="14.9" fill="#d4d4d4"/>
<text x="40.2" y="713.9" font-size="4.6" textLength="5.22" lengthAdjust="spacingAndGlyphs" text-anchor="middle">SE</text>
<text x="40.2" y="721.45" font-size="4.6" textLength="7.88" lengthAdjust="spacingAndGlyphs" text-anchor="middle">1.72</text>
<text x="40.2" y="728.9" font-size="4.6" textLength="7.88" lengthAdjust="spacingAndGlyphs" text-anchor="middle">1.66</text>
<text x="64.6" y="713.9" font-size="4.6" textLength="6.08" lengthAdjust="spacingAndGlyphs" text-anchor="middle">RM</text>
<text x="64.6" y="721.45" font-size="4.6" textLength="7.88" lengthAdjust="spacingAndGlyphs" text-anchor="middle">1.59</text>
<text x="64.6" y="728.9" font-size="4.6" textLength="5.63" lengthAdjust="spacingAndGlyphs" text-anchor="middle">1.6</text>
<text x="89" y="713.9" font-size="4.6" textLength="4.56" lengthAdjust="spacingAndGlyphs" text-anchor="middle">LF</text>
<text x="89" y="721.45" font-size="4.6" textLength="7.88" lengthAdjust="spacingAndGlyphs" text-anchor="middle">1.51</text>
<text x="89" y="728.9" font-size="4.6" textLength="7.88" lengthAdjust="spacingAndGlyphs" text-anchor="middle">1.57</text>
<text x="113.4" y="713.9" font-size="4.6" textLength="5.22" lengthAdjust="spacingAndGlyphs" text-anchor="middle">BB</text>
<text x="113.4" y="721.45" font-size="4.6" textLength="7.88" lengthAdjust="spacingAndGlyphs" text-anchor="middle">4.84</text>
<text x="113.4" y="728.9" font-size="4.6" textLength="7.88" lengthAdjust="spacingAndGlyphs" text-anchor="middle">5.56</text>
<text x="137.8" y="713.9" font-size="4.6" textLength="5.65" lengthAdjust="spacingAndGlyphs" text-anchor="middle">EO</text>
<text x="137.8" y="721.45" font-size="4.6" textLength="5.63" lengthAdjust="spacingAndGlyphs" text-anchor="middle">1.9</text>
<text x="137.8" y="728.9" font-size="4.6" textLength="7.88" lengthAdjust="spacingAndGlyphs" text-anchor="middle">2.07</text>
<text x="162.2" y="713.9" font-size="4.6" textLength="4.13" lengthAdjust="spacingAndGlyphs" text-anchor="middle">IO</text>
<text x="162.2" y="721.45" font-size="4.6" textLength="7.88" lengthAdjust="spacingAndGlyphs" text-anchor="middle">2.88</text>
<text x="162.2" y="728.9" font-size="4.6" textLength="7.88" lengthAdjust="spacingAndGlyphs" text-anchor="middle">3.31</text>
<rect x="13.3" y="718" width="2.5" height="2.5" fill="#6f9838"/>
<text x="16.9" y="721.42" font-size="4.8" textLength="3.1" lengthAdjust="spacingAndGlyphs">H</text>
<rect x="13.3" y="725.45" width="2.5" height="2.5" fill="#b1ce8a"/>
<text x="16.9" y="728.87" font-size="4.8" textLength="9.8" lengthAdjust="spacingAndGlyphs">CLBP</text>
<text x="91.3" y="634.2" font-size="8.2" textLength="53.4" lengthAdjust="spacingAndGlyphs" font-weight="bold" fill="#000" text-anchor="middle" stroke="#000" stroke-width="0.1">Post/Pre Ratio</text>
<text transform="translate(14 674.7) rotate(-90)" font-size="4.6" font-weight="bold" text-anchor="middle" fill="#222" textLength="10.9" lengthAdjust="spacingAndGlyphs">Ratio</text>
<rect x="206.9" y="707.6" width="2" height="1" fill="#d6d6d6"/>
<text x="204.2" y="710.35" font-size="4.6" fill="#333" text-anchor="end">0</text>
<rect x="208.9" y="696.6" width="141.6" height="1" fill="#e2e2e2"/>
<rect x="206.9" y="696.6" width="2" height="1" fill="#d6d6d6"/>
<text x="204.2" y="699.35" font-size="4.6" fill="#333" text-anchor="end">2</text>
<rect x="208.9" y="685.6" width="141.6" height="1" fill="#e2e2e2"/>
<rect x="206.9" y="685.6" width="2" height="1" fill="#d6d6d6"/>
<text x="204.2" y="688.35" font-size="4.6" fill="#333" text-anchor="end">4</text>
<rect x="208.9" y="674.6" width="141.6" height="1" fill="#e2e2e2"/>
<rect x="206.9" y="674.6" width="2" height="1" fill="#d6d6d6"/>
<text x="204.2" y="677.35" font-size="4.6" fill="#333" text-anchor="end">6</text>
<rect x="208.9" y="663.6" width="141.6" height="1" fill="#e2e2e2"/>
<rect x="206.9" y="663.6" width="2" height="1" fill="#d6d6d6"/>
<text x="204.2" y="666.35" font-size="4.6" fill="#333" text-anchor="end">8</text>
<rect x="208.9" y="652.6" width="141.6" height="1" fill="#e2e2e2"/>
<rect x="206.9" y="652.6" width="2" height="1" fill="#d6d6d6"/>
<text x="204.2" y="655.35" font-size="4.6" fill="#333" text-anchor="end">10</text>
<rect x="208.9" y="641.6" width="141.6" height="1" fill="#e2e2e2"/>
<rect x="206.9" y="641.6" width="2" height="1" fill="#d6d6d6"/>
<text x="204.2" y="644.35" font-size="4.6" fill="#333" text-anchor="end">12</text>
<rect x="214.14" y="698.48" width="6.21" height="9.62" fill="url(#gR0)"/>
<rect x="237.74" y="699.36" width="6.21" height="8.75" fill="url(#gR0)"/>
<rect x="261.34" y="699.8" width="6.21" height="8.3" fill="url(#gR0)"/>
<rect x="284.94" y="680.65" width="6.21" height="27.45" fill="url(#gR0)"/>
<rect x="308.54" y="697.82" width="6.21" height="10.28" fill="url(#gR0)"/>
<rect x="332.14" y="691" width="6.21" height="17.11" fill="url(#gR0)"/>
<rect x="221.05" y="698.97" width="6.21" height="9.13" fill="url(#gR1)"/>
<rect x="244.65" y="699.8" width="6.21" height="8.3" fill="url(#gR1)"/>
<rect x="268.25" y="699.96" width="6.21" height="8.14" fill="url(#gR1)"/>
<rect x="291.85" y="697.6" width="6.21" height="10.5" fill="url(#gR1)"/>
<rect x="315.45" y="698.37" width="6.21" height="9.74" fill="url(#gR1)"/>
<rect x="339.05" y="692.87" width="6.21" height="15.24" fill="url(#gR1)"/>
<rect x="216.97" y="696.3" width="0.9" height="5.7" fill="#5c5c5c"/>
<rect x="216.32" y="695.8" width="2.2" height="1" fill="#333333"/>
<rect x="216.32" y="701.5" width="2.2" height="1" fill="#333333"/>
<rect x="240.57" y="697.4" width="0.9" height="4.6" fill="#5c5c5c"/>
<rect x="239.92" y="696.9" width="2.2" height="1" fill="#333333"/>
<rect x="239.92" y="701.5" width="2.2" height="1" fill="#333333"/>
<rect x="264.17" y="698" width="0.9" height="4" fill="#5c5c5c"/>
<rect x="263.52" y="697.5" width="2.2" height="1" fill="#333333"/>
<rect x="263.52" y="701.5" width="2.2" height="1" fill="#333333"/>
<rect x="287.77" y="663.8" width="0.9" height="33.6" fill="#5c5c5c"/>
<rect x="287.12" y="663.3" width="2.2" height="1" fill="#333333"/>
<rect x="287.12" y="696.9" width="2.2" height="1" fill="#333333"/>
<rect x="311.37" y="694.3" width="0.9" height="6.5" fill="#5c5c5c"/>
<rect x="310.72" y="693.8" width="2.2" height="1" fill="#333333"/>
<rect x="310.72" y="700.3" width="2.2" height="1" fill="#333333"/>
<rect x="334.97" y="676.2" width="0.9" height="28.6" fill="#5c5c5c"/>
<rect x="334.32" y="675.7" width="2.2" height="1" fill="#333333"/>
<rect x="334.32" y="704.3" width="2.2" height="1" fill="#333333"/>
<rect x="223.53" y="697" width="0.9" height="4.4" fill="#5c5c5c"/>
<rect x="222.88" y="696.5" width="2.2" height="1" fill="#333333"/>
<rect x="222.88" y="700.9" width="2.2" height="1" fill="#333333"/>
<rect x="247.13" y="698" width="0.9" height="3.4" fill="#5c5c5c"/>
<rect x="246.48" y="697.5" width="2.2" height="1" fill="#333333"/>
<rect x="246.48" y="700.9" width="2.2" height="1" fill="#333333"/>
<rect x="270.73" y="698.4" width="0.9" height="3.6" fill="#5c5c5c"/>
<rect x="270.08" y="697.9" width="2.2" height="1" fill="#333333"/>
<rect x="270.08" y="701.5" width="2.2" height="1" fill="#333333"/>
<rect x="294.33" y="692.3" width="0.9" height="9.7" fill="#5c5c5c"/>
<rect x="293.68" y="691.8" width="2.2" height="1" fill="#333333"/>
<rect x="293.68" y="701.5" width="2.2" height="1" fill="#333333"/>
<rect x="317.93" y="694.7" width="0.9" height="7.3" fill="#5c5c5c"/>
<rect x="317.28" y="694.2" width="2.2" height="1" fill="#333333"/>
<rect x="317.28" y="701.5" width="2.2" height="1" fill="#333333"/>
<rect x="341.53" y="685.3" width="0.9" height="14.1" fill="#5c5c5c"/>
<rect x="340.88" y="684.8" width="2.2" height="1" fill="#333333"/>
<rect x="340.88" y="698.9" width="2.2" height="1" fill="#333333"/>
<rect x="208.4" y="642.1" width="1" height="88.5" fill="#d6d6d6"/>
<rect x="208.9" y="707.6" width="141.6" height="1" fill="#d6d6d6"/>
<rect x="188.7" y="715.3" width="161.8" height="1" fill="#d4d4d4"/>
<rect x="188.7" y="722.7" width="161.8" height="1" fill="#d4d4d4"/>
<rect x="188.7" y="730.1" width="161.8" height="1" fill="#d4d4d4"/>
<rect x="232" y="708.1" width="1" height="22.5" fill="#d4d4d4"/>
<rect x="255.6" y="708.1" width="1" height="22.5" fill="#d4d4d4"/>
<rect x="279.2" y="708.1" width="1" height="22.5" fill="#d4d4d4"/>
<rect x="302.8" y="708.1" width="1" height="22.5" fill="#d4d4d4"/>
<rect x="326.4" y="708.1" width="1" height="22.5" fill="#d4d4d4"/>
<rect x="350" y="708.1" width="1" height="22.5" fill="#d4d4d4"/>
<rect x="188.2" y="715.8" width="1" height="14.8" fill="#d4d4d4"/>
<text x="220.7" y="714.2" font-size="4.6" textLength="5.22" lengthAdjust="spacingAndGlyphs" text-anchor="middle">SE</text>
<text x="220.7" y="721.75" font-size="4.6" textLength="7.88" lengthAdjust="spacingAndGlyphs" text-anchor="middle">1.75</text>
<text x="220.7" y="729.15" font-size="4.6" textLength="7.88" lengthAdjust="spacingAndGlyphs" text-anchor="middle">1.66</text>
<text x="244.3" y="714.2" font-size="4.6" textLength="6.08" lengthAdjust="spacingAndGlyphs" text-anchor="middle">RM</text>
<text x="244.3" y="721.75" font-size="4.6" textLength="7.88" lengthAdjust="spacingAndGlyphs" text-anchor="middle">1.59</text>
<text x="244.3" y="729.15" font-size="4.6" textLength="7.88" lengthAdjust="spacingAndGlyphs" text-anchor="middle">1.51</text>
<text x="267.9" y="714.2" font-size="4.6" textLength="4.56" lengthAdjust="spacingAndGlyphs" text-anchor="middle">LF</text>
<text x="267.9" y="721.75" font-size="4.6" textLength="7.88" lengthAdjust="spacingAndGlyphs" text-anchor="middle">1.51</text>
<text x="267.9" y="729.15" font-size="4.6" textLength="7.88" lengthAdjust="spacingAndGlyphs" text-anchor="middle">1.48</text>
<text x="291.5" y="714.2" font-size="4.6" textLength="5.22" lengthAdjust="spacingAndGlyphs" text-anchor="middle">BB</text>
<text x="291.5" y="721.75" font-size="4.6" textLength="7.88" lengthAdjust="spacingAndGlyphs" text-anchor="middle">4.99</text>
<text x="291.5" y="729.15" font-size="4.6" textLength="7.88" lengthAdjust="spacingAndGlyphs" text-anchor="middle">1.91</text>
<text x="315.1" y="714.2" font-size="4.6" textLength="5.65" lengthAdjust="spacingAndGlyphs" text-anchor="middle">EO</text>
<text x="315.1" y="721.75" font-size="4.6" textLength="7.88" lengthAdjust="spacingAndGlyphs" text-anchor="middle">1.87</text>
<text x="315.1" y="729.15" font-size="4.6" textLength="7.88" lengthAdjust="spacingAndGlyphs" text-anchor="middle">1.77</text>
<text x="338.7" y="714.2" font-size="4.6" textLength="4.13" lengthAdjust="spacingAndGlyphs" text-anchor="middle">IO</text>
<text x="338.7" y="721.75" font-size="4.6" textLength="7.58" lengthAdjust="spacingAndGlyphs" text-anchor="middle">3.11</text>
<text x="338.7" y="729.15" font-size="4.6" textLength="7.88" lengthAdjust="spacingAndGlyphs" text-anchor="middle">2.77</text>
<rect x="190.5" y="718.3" width="2.5" height="2.5" fill="#345b98"/>
<text x="194.1" y="721.72" font-size="4.8" textLength="12.2" lengthAdjust="spacingAndGlyphs">Non-F</text>
<rect x="190.5" y="725.7" width="2.5" height="2.5" fill="#839fcf"/>
<text x="194.1" y="729.12" font-size="4.8" textLength="12.9" lengthAdjust="spacingAndGlyphs">With-F</text>
<text x="267.85" y="634.2" font-size="8.2" textLength="53.1" lengthAdjust="spacingAndGlyphs" font-weight="bold" fill="#000" text-anchor="middle" stroke="#000" stroke-width="0.1">Post/Pre Ratio</text>
<text transform="translate(191 675.1) rotate(-90)" font-size="4.6" font-weight="bold" text-anchor="middle" fill="#222" textLength="10.9" lengthAdjust="spacingAndGlyphs">Ratio</text>
<rect x="26.5" y="813.5" width="2" height="1" fill="#d6d6d6"/>
<text x="23.8" y="816.25" font-size="4.6" fill="#333" text-anchor="end">0</text>
<rect x="28.5" y="803.53" width="145.9" height="1" fill="#e2e2e2"/>
<rect x="26.5" y="803.53" width="2" height="1" fill="#d6d6d6"/>
<text x="23.8" y="806.28" font-size="4.6" fill="#333" text-anchor="end">50</text>
<rect x="28.5" y="793.57" width="145.9" height="1" fill="#e2e2e2"/>
<rect x="26.5" y="793.57" width="2" height="1" fill="#d6d6d6"/>
<text x="23.8" y="796.31" font-size="4.6" fill="#333" text-anchor="end">100</text>
<rect x="28.5" y="783.6" width="145.9" height="1" fill="#e2e2e2"/>
<rect x="26.5" y="783.6" width="2" height="1" fill="#d6d6d6"/>
<text x="23.8" y="786.35" font-size="4.6" fill="#333" text-anchor="end">150</text>
<rect x="28.5" y="773.63" width="145.9" height="1" fill="#e2e2e2"/>
<rect x="26.5" y="773.63" width="2" height="1" fill="#d6d6d6"/>
<text x="23.8" y="776.38" font-size="4.6" fill="#333" text-anchor="end">200</text>
<rect x="28.5" y="763.67" width="145.9" height="1" fill="#e2e2e2"/>
<rect x="26.5" y="763.67" width="2" height="1" fill="#d6d6d6"/>
<text x="23.8" y="766.41" font-size="4.6" fill="#333" text-anchor="end">250</text>
<rect x="28.5" y="753.7" width="145.9" height="1" fill="#e2e2e2"/>
<rect x="26.5" y="753.7" width="2" height="1" fill="#d6d6d6"/>
<text x="23.8" y="756.45" font-size="4.6" fill="#333" text-anchor="end">300</text>
<rect x="39.31" y="797.79" width="13.16" height="16.21" fill="url(#gL0)"/>
<rect x="87.94" y="795.43" width="13.16" height="18.57" fill="url(#gL0)"/>
<rect x="136.57" y="779.04" width="13.16" height="34.96" fill="url(#gL0)"/>
<rect x="53.17" y="801" width="13.16" height="13" fill="url(#gL1)"/>
<rect x="101.8" y="797.06" width="13.16" height="16.94" fill="url(#gL1)"/>
<rect x="150.43" y="783.64" width="13.16" height="30.36" fill="url(#gL1)"/>
<rect x="45.61" y="790.4" width="0.9" height="15.1" fill="#5c5c5c"/>
<rect x="44.96" y="789.9" width="2.2" height="1" fill="#333333"/>
<rect x="44.96" y="805" width="2.2" height="1" fill="#333333"/>
<rect x="94.25" y="788.3" width="0.9" height="15.1" fill="#5c5c5c"/>
<rect x="93.6" y="787.8" width="2.2" height="1" fill="#333333"/>
<rect x="93.6" y="802.9" width="2.2" height="1" fill="#333333"/>
<rect x="142.88" y="762.9" width="0.9" height="32.1" fill="#5c5c5c"/>
<rect x="142.23" y="762.4" width="2.2" height="1" fill="#333333"/>
<rect x="142.23" y="794.5" width="2.2" height="1" fill="#333333"/>
<rect x="59.12" y="794.4" width="0.9" height="13.1" fill="#5c5c5c"/>
<rect x="58.47" y="793.9" width="2.2" height="1" fill="#333333"/>
<rect x="58.47" y="807" width="2.2" height="1" fill="#333333"/>
<rect x="107.75" y="789.3" width="0.9" height="16.2" fill="#5c5c5c"/>
<rect x="107.1" y="788.8" width="2.2" height="1" fill="#333333"/>
<rect x="107.1" y="805" width="2.2" height="1" fill="#333333"/>
<rect x="156.39" y="768.4" width="0.9" height="30.8" fill="#5c5c5c"/>
<rect x="155.74" y="767.9" width="2.2" height="1" fill="#333333"/>
<rect x="155.74" y="798.7" width="2.2" height="1" fill="#333333"/>
<rect x="28" y="754.2" width="1" height="82.6" fill="#d6d6d6"/>
<rect x="28.5" y="813.5" width="145.9" height="1" fill="#d6d6d6"/>
<rect x="11.5" y="821.2" width="162.9" height="1" fill="#d4d4d4"/>
<rect x="11.5" y="828.6" width="162.9" height="1" fill="#d4d4d4"/>
<rect x="11.5" y="836.3" width="162.9" height="1" fill="#d4d4d4"/>
<rect x="76.63" y="814" width="1" height="22.8" fill="#d4d4d4"/>
<rect x="125.27" y="814" width="1" height="22.8" fill="#d4d4d4"/>
<rect x="173.9" y="814" width="1" height="22.8" fill="#d4d4d4"/>
<rect x="11" y="821.7" width="1" height="15.1" fill="#d4d4d4"/>
<text x="52.82" y="820.1" font-size="4.6" textLength="14.56" lengthAdjust="spacingAndGlyphs" text-anchor="middle">SE &amp;EO</text>
<text x="52.82" y="827.65" font-size="4.6" textLength="10.13" lengthAdjust="spacingAndGlyphs" text-anchor="middle">81.34</text>
<text x="52.82" y="835.2" font-size="4.6" textLength="10.13" lengthAdjust="spacingAndGlyphs" text-anchor="middle">65.21</text>
<text x="101.45" y="820.1" font-size="4.6" textLength="14.12" lengthAdjust="spacingAndGlyphs" text-anchor="middle">SE &amp; IO</text>
<text x="101.45" y="827.65" font-size="4.6" textLength="10.13" lengthAdjust="spacingAndGlyphs" text-anchor="middle">93.15</text>
<text x="101.45" y="835.2" font-size="4.6" textLength="4.5" lengthAdjust="spacingAndGlyphs" text-anchor="middle">85</text>
<text x="150.08" y="820.1" font-size="4.6" textLength="14.56" lengthAdjust="spacingAndGlyphs" text-anchor="middle">EO &amp; IO</text>
<text x="150.08" y="827.65" font-size="4.6" textLength="12.38" lengthAdjust="spacingAndGlyphs" text-anchor="middle">175.38</text>
<text x="150.08" y="835.2" font-size="4.6" textLength="12.38" lengthAdjust="spacingAndGlyphs" text-anchor="middle">152.29</text>
<rect x="13.3" y="824.2" width="2.5" height="2.5" fill="#6f9838"/>
<text x="16.9" y="827.62" font-size="4.8" textLength="3.1" lengthAdjust="spacingAndGlyphs">H</text>
<rect x="13.3" y="831.75" width="2.5" height="2.5" fill="#b1ce8a"/>
<text x="16.9" y="835.17" font-size="4.8" textLength="9.8" lengthAdjust="spacingAndGlyphs">CLBP</text>
<text x="91.05" y="746" font-size="8.2" textLength="99.3" lengthAdjust="spacingAndGlyphs" font-weight="bold" fill="#000" text-anchor="middle" stroke="#000" stroke-width="0.1">Co-contraction post impact</text>
<text transform="translate(14 784.1) rotate(-90)" font-size="4.6" font-weight="bold" text-anchor="middle" fill="#222" textLength="24" lengthAdjust="spacingAndGlyphs">milliseconds</text>
<rect x="206.6" y="813.5" width="2" height="1" fill="#d6d6d6"/>
<text x="203.9" y="816.25" font-size="4.6" fill="#333" text-anchor="end">0</text>
<rect x="208.6" y="803.57" width="142.3" height="1" fill="#e2e2e2"/>
<rect x="206.6" y="803.57" width="2" height="1" fill="#d6d6d6"/>
<text x="203.9" y="806.31" font-size="4.6" fill="#333" text-anchor="end">50</text>
<rect x="208.6" y="793.63" width="142.3" height="1" fill="#e2e2e2"/>
<rect x="206.6" y="793.63" width="2" height="1" fill="#d6d6d6"/>
<text x="203.9" y="796.38" font-size="4.6" fill="#333" text-anchor="end">100</text>
<rect x="208.6" y="783.7" width="142.3" height="1" fill="#e2e2e2"/>
<rect x="206.6" y="783.7" width="2" height="1" fill="#d6d6d6"/>
<text x="203.9" y="786.45" font-size="4.6" fill="#333" text-anchor="end">150</text>
<rect x="208.6" y="773.77" width="142.3" height="1" fill="#e2e2e2"/>
<rect x="206.6" y="773.77" width="2" height="1" fill="#d6d6d6"/>
<text x="203.9" y="776.51" font-size="4.6" fill="#333" text-anchor="end">200</text>
<rect x="208.6" y="763.83" width="142.3" height="1" fill="#e2e2e2"/>
<rect x="206.6" y="763.83" width="2" height="1" fill="#d6d6d6"/>
<text x="203.9" y="766.58" font-size="4.6" fill="#333" text-anchor="end">250</text>
<rect x="208.6" y="753.9" width="142.3" height="1" fill="#e2e2e2"/>
<rect x="206.6" y="753.9" width="2" height="1" fill="#d6d6d6"/>
<text x="203.9" y="756.65" font-size="4.6" fill="#333" text-anchor="end">300</text>
<rect x="219.14" y="797.11" width="12.83" height="16.89" fill="url(#gR0)"/>
<rect x="266.57" y="795.4" width="12.83" height="18.6" fill="url(#gR0)"/>
<rect x="314.01" y="780.9" width="12.83" height="33.1" fill="url(#gR0)"/>
<rect x="232.67" y="801.64" width="12.83" height="12.36" fill="url(#gR1)"/>
<rect x="280.1" y="799.42" width="12.83" height="14.58" fill="url(#gR1)"/>
<rect x="327.53" y="783.41" width="12.83" height="30.59" fill="url(#gR1)"/>
<rect x="225.28" y="789.8" width="0.9" height="14.9" fill="#5c5c5c"/>
<rect x="224.63" y="789.3" width="2.2" height="1" fill="#333333"/>
<rect x="224.63" y="804.2" width="2.2" height="1" fill="#333333"/>
<rect x="272.71" y="787.8" width="0.9" height="15.5" fill="#5c5c5c"/>
<rect x="272.06" y="787.3" width="2.2" height="1" fill="#333333"/>
<rect x="272.06" y="802.8" width="2.2" height="1" fill="#333333"/>
<rect x="320.15" y="766.1" width="0.9" height="30.2" fill="#5c5c5c"/>
<rect x="319.5" y="765.6" width="2.2" height="1" fill="#333333"/>
<rect x="319.5" y="795.8" width="2.2" height="1" fill="#333333"/>
<rect x="238.45" y="794.3" width="0.9" height="15" fill="#5c5c5c"/>
<rect x="237.8" y="793.8" width="2.2" height="1" fill="#333333"/>
<rect x="237.8" y="808.8" width="2.2" height="1" fill="#333333"/>
<rect x="285.89" y="791.2" width="0.9" height="17.1" fill="#5c5c5c"/>
<rect x="285.24" y="790.7" width="2.2" height="1" fill="#333333"/>
<rect x="285.24" y="807.8" width="2.2" height="1" fill="#333333"/>
<rect x="333.32" y="763.1" width="0.9" height="41.2" fill="#5c5c5c"/>
<rect x="332.67" y="762.6" width="2.2" height="1" fill="#333333"/>
<rect x="332.67" y="803.8" width="2.2" height="1" fill="#333333"/>
<rect x="208.1" y="754.4" width="1" height="82.6" fill="#d6d6d6"/>
<rect x="208.6" y="813.5" width="142.3" height="1" fill="#d6d6d6"/>
<rect x="188.7" y="821.2" width="162.2" height="1" fill="#d4d4d4"/>
<rect x="188.7" y="828.9" width="162.2" height="1" fill="#d4d4d4"/>
<rect x="188.7" y="836.5" width="162.2" height="1" fill="#d4d4d4"/>
<rect x="255.53" y="814" width="1" height="23" fill="#d4d4d4"/>
<rect x="302.97" y="814" width="1" height="23" fill="#d4d4d4"/>
<rect x="350.4" y="814" width="1" height="23" fill="#d4d4d4"/>
<rect x="188.2" y="821.7" width="1" height="15.3" fill="#d4d4d4"/>
<text x="232.32" y="820.1" font-size="4.6" textLength="14.56" lengthAdjust="spacingAndGlyphs" text-anchor="middle">SE &amp;EO</text>
<text x="232.32" y="827.8" font-size="4.6" textLength="4.5" lengthAdjust="spacingAndGlyphs" text-anchor="middle">85</text>
<text x="232.32" y="835.45" font-size="4.6" textLength="7.88" lengthAdjust="spacingAndGlyphs" text-anchor="middle">62.2</text>
<text x="279.75" y="820.1" font-size="4.6" textLength="14.12" lengthAdjust="spacingAndGlyphs" text-anchor="middle">SE &amp; IO</text>
<text x="279.75" y="827.8" font-size="4.6" textLength="7.88" lengthAdjust="spacingAndGlyphs" text-anchor="middle">93.6</text>
<text x="279.75" y="835.45" font-size="4.6" textLength="7.88" lengthAdjust="spacingAndGlyphs" text-anchor="middle">73.4</text>
<text x="327.18" y="820.1" font-size="4.6" textLength="14.56" lengthAdjust="spacingAndGlyphs" text-anchor="middle">EO &amp; IO</text>
<text x="327.18" y="827.8" font-size="4.6" textLength="10.13" lengthAdjust="spacingAndGlyphs" text-anchor="middle">166.6</text>
<text x="327.18" y="835.45" font-size="4.6" textLength="6.75" lengthAdjust="spacingAndGlyphs" text-anchor="middle">154</text>
<rect x="190.5" y="824.35" width="2.5" height="2.5" fill="#345b98"/>
<text x="194.1" y="827.77" font-size="4.8" textLength="12.2" lengthAdjust="spacingAndGlyphs">Non-F</text>
<rect x="190.5" y="832" width="2.5" height="2.5" fill="#839fcf"/>
<text x="194.1" y="835.42" font-size="4.8" textLength="12.9" lengthAdjust="spacingAndGlyphs">With-F</text>
<text x="268.2" y="746" font-size="8.2" textLength="100.2" lengthAdjust="spacingAndGlyphs" font-weight="bold" fill="#000" text-anchor="middle" stroke="#000" stroke-width="0.1">Co-contraction post impact</text>
<text transform="translate(191 784.2) rotate(-90)" font-size="4.6" font-weight="bold" text-anchor="middle" fill="#222" textLength="24" lengthAdjust="spacingAndGlyphs">milliseconds</text>
<rect x="1" y="1.1" width="355.7" height="3.8" fill="#000"/>
<rect x="1" y="838.8" width="355.7" height="3.9" fill="#000"/>
<rect x="0.9" y="1" width="4.1" height="841.7" fill="#000"/>
<rect x="352.6" y="1" width="4.1" height="841.7" fill="#000"/>
<rect x="1" y="118.8" width="355.7" height="1.6" fill="#000"/>
<rect x="1" y="240.4" width="355.7" height="1.7" fill="#000"/>
<rect x="1" y="358.1" width="355.7" height="1.8" fill="#000"/>
<rect x="1" y="475.5" width="355.7" height="1.6" fill="#000"/>
<rect x="1" y="619.6" width="355.7" height="1.6" fill="#000"/>
<rect x="1" y="732.9" width="355.7" height="1.6" fill="#000"/>
<polygon points="178.1,1 180.3,1 181.0,842.7 178.8,842.7" fill="#000"/>
</g>
</svg></body></html>
